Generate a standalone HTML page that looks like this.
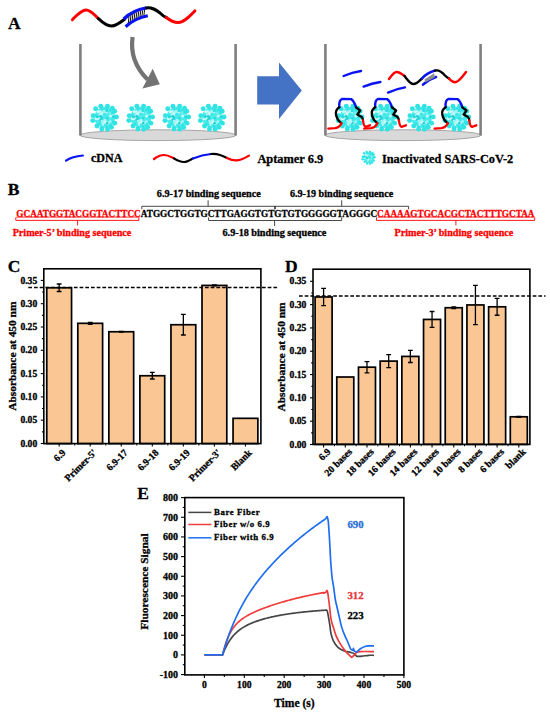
<!DOCTYPE html>
<html><head><meta charset="utf-8"><style>
html,body{margin:0;padding:0;background:#fff;width:550px;height:715px;overflow:hidden}
svg{display:block}
text{font-family:"Liberation Serif",serif;font-weight:bold;stroke:#000;stroke-width:0.3px}
</style></head><body>
<svg width="550" height="715" viewBox="0 0 550 715">
<rect width="550" height="715" fill="#fff"/>
<text x="8.00" y="28.80" font-size="17.5" fill="#000" style="stroke:#000" text-anchor="start" >A</text><path d="M72.4,19.7 C77,15 81,10 86,9.9 C91,9.9 95,15.5 98.3,18.5" fill="none" stroke="#ff0000" stroke-width="3.0" stroke-linecap="round" stroke-linejoin="round" /><path d="M98.3,18.5 C102,22 106,26 111.5,26.1 C116,26 121,22 124.8,19.1" fill="none" stroke="#000" stroke-width="3.0" stroke-linecap="round" stroke-linejoin="round" /><path d="M123.8,18.9 C128,14.8 134,10.2 146.4,7.9" fill="none" stroke="#0a14f0" stroke-width="3.5" stroke-linecap="butt" stroke-linejoin="round" /><path d="M125.6,26.7 C131,21.8 138,17.6 147.8,15.8" fill="none" stroke="#0a14f0" stroke-width="3.2" stroke-linecap="butt" stroke-linejoin="round" /><path d="M146.4,7.9 C152,7.0 156,10 160,13 C162,15 164,16.5 166.3,17.5" fill="none" stroke="#000" stroke-width="3.0" stroke-linecap="round" stroke-linejoin="round" /><path d="M166.3,17.5 C170,20.5 174,22.5 178.2,22.5 C184,22.5 190,16 194.9,10.9" fill="none" stroke="#ff0000" stroke-width="3.0" stroke-linecap="round" stroke-linejoin="round" /><line x1="128.30" y1="22.92" x2="129.00" y2="16.67" stroke="#111" stroke-width="1.0"/><line x1="130.25" y1="21.49" x2="130.95" y2="15.36" stroke="#111" stroke-width="1.0"/><line x1="132.20" y1="20.20" x2="132.90" y2="14.23" stroke="#111" stroke-width="1.0"/><line x1="134.15" y1="19.07" x2="134.85" y2="13.25" stroke="#111" stroke-width="1.0"/><line x1="136.10" y1="18.06" x2="136.80" y2="12.41" stroke="#111" stroke-width="1.0"/><line x1="138.05" y1="17.18" x2="138.75" y2="11.67" stroke="#111" stroke-width="1.0"/><line x1="140.00" y1="16.41" x2="140.70" y2="11.04" stroke="#111" stroke-width="1.0"/><line x1="141.95" y1="15.75" x2="142.65" y2="10.49" stroke="#111" stroke-width="1.0"/><line x1="143.90" y1="15.18" x2="144.60" y2="10.01" stroke="#111" stroke-width="1.0"/><ellipse cx="158.00" cy="135.2" rx="78.10" ry="5.4" fill="#d9d9d9" stroke="#a6a6a6" stroke-width="1"/><line x1="80.40" y1="44" x2="80.40" y2="135.5" stroke="#7f7f7f" stroke-width="2.6"/><line x1="235.60" y1="44" x2="235.60" y2="135.5" stroke="#7f7f7f" stroke-width="2.6"/><ellipse cx="403.00" cy="135.2" rx="78.10" ry="5.4" fill="#d9d9d9" stroke="#a6a6a6" stroke-width="1"/><line x1="325.40" y1="44" x2="325.40" y2="135.5" stroke="#7f7f7f" stroke-width="2.6"/><line x1="480.60" y1="44" x2="480.60" y2="135.5" stroke="#7f7f7f" stroke-width="2.6"/><g transform="translate(104.80,117.40) scale(1.0333)"><circle r="10.2" fill="#48eaea"/><line x1="6.99" y1="-0.30" x2="11.27" y2="-0.48" stroke="#2fe2e2" stroke-width="1.6"/><circle cx="11.27" cy="-0.48" r="2.4" fill="#30e4e4"/><line x1="6.08" y1="3.48" x2="9.71" y2="5.55" stroke="#2fe2e2" stroke-width="1.6"/><circle cx="9.71" cy="5.55" r="2.4" fill="#30e4e4"/><line x1="3.93" y1="5.79" x2="6.47" y2="9.55" stroke="#2fe2e2" stroke-width="1.6"/><circle cx="6.47" cy="9.55" r="2.4" fill="#30e4e4"/><line x1="1.57" y1="6.82" x2="2.63" y2="11.41" stroke="#2fe2e2" stroke-width="1.6"/><circle cx="2.63" cy="11.41" r="2.4" fill="#30e4e4"/><line x1="-1.74" y1="6.78" x2="-2.89" y2="11.25" stroke="#2fe2e2" stroke-width="1.6"/><circle cx="-2.89" cy="11.25" r="2.4" fill="#30e4e4"/><line x1="-4.73" y1="5.16" x2="-7.58" y2="8.26" stroke="#2fe2e2" stroke-width="1.6"/><circle cx="-7.58" cy="8.26" r="2.4" fill="#30e4e4"/><line x1="-6.77" y1="1.80" x2="-11.69" y2="3.11" stroke="#2fe2e2" stroke-width="1.6"/><circle cx="-11.69" cy="3.11" r="2.4" fill="#30e4e4"/><line x1="-6.92" y1="-1.06" x2="-11.24" y2="-1.71" stroke="#2fe2e2" stroke-width="1.6"/><circle cx="-11.24" cy="-1.71" r="2.4" fill="#30e4e4"/><line x1="-5.10" y1="-4.80" x2="-8.91" y2="-8.39" stroke="#2fe2e2" stroke-width="1.6"/><circle cx="-8.91" cy="-8.39" r="2.4" fill="#30e4e4"/><line x1="-2.36" y1="-6.59" x2="-3.90" y2="-10.90" stroke="#2fe2e2" stroke-width="1.6"/><circle cx="-3.90" cy="-10.90" r="2.4" fill="#30e4e4"/><line x1="1.63" y1="-6.81" x2="2.60" y2="-10.85" stroke="#2fe2e2" stroke-width="1.6"/><circle cx="2.60" cy="-10.85" r="2.4" fill="#30e4e4"/><line x1="4.46" y1="-5.40" x2="7.29" y2="-8.83" stroke="#2fe2e2" stroke-width="1.6"/><circle cx="7.29" cy="-8.83" r="2.4" fill="#30e4e4"/><line x1="5.90" y1="-3.77" x2="9.47" y2="-6.05" stroke="#2fe2e2" stroke-width="1.6"/><circle cx="9.47" cy="-6.05" r="2.4" fill="#30e4e4"/><circle cx="1.97" cy="-4.47" r="0.89" fill="#b0f6f6"/><circle cx="2.53" cy="6.15" r="1.29" fill="#c8f9f9"/><circle cx="2.05" cy="0.81" r="1.25" fill="#2adcdc"/><circle cx="1.09" cy="-6.32" r="1.33" fill="#e0fcfc"/><circle cx="-1.82" cy="5.64" r="1.43" fill="#b0f6f6"/><circle cx="-3.88" cy="-1.96" r="1.59" fill="#e0fcfc"/><circle cx="-1.77" cy="7.30" r="0.91" fill="#c8f9f9"/><circle cx="0.26" cy="-5.68" r="1.64" fill="#b0f6f6"/><circle cx="5.55" cy="-1.35" r="1.49" fill="#c8f9f9"/><circle cx="4.72" cy="-4.70" r="1.11" fill="#22ccd4"/><circle cx="-5.21" cy="0.11" r="0.86" fill="#e0fcfc"/><circle cx="-0.34" cy="2.67" r="0.85" fill="#c8f9f9"/><circle cx="-4.44" cy="-5.88" r="1.06" fill="#e0fcfc"/><circle cx="-2.67" cy="-4.77" r="1.65" fill="#9ef3f3"/><circle cx="-4.02" cy="-3.37" r="0.85" fill="#e0fcfc"/><circle cx="5.30" cy="5.60" r="1.16" fill="#2adcdc"/><circle cx="-8.42" cy="0.18" r="1.20" fill="#b0f6f6"/><circle cx="4.85" cy="-4.36" r="1.58" fill="#6cefef"/><circle cx="-4.00" cy="2.36" r="1.41" fill="#22ccd4"/><circle cx="0.65" cy="5.39" r="0.96" fill="#c8f9f9"/><circle cx="0.44" cy="4.22" r="1.55" fill="#e0fcfc"/><circle cx="-0.75" cy="3.68" r="1.18" fill="#b0f6f6"/><circle cx="-4.89" cy="-2.17" r="1.42" fill="#b0f6f6"/><circle cx="-4.67" cy="-4.25" r="1.21" fill="#9ef3f3"/><circle cx="7.84" cy="-2.45" r="1.16" fill="#6cefef"/><circle cx="-5.49" cy="0.64" r="0.86" fill="#6cefef"/><circle cx="0.59" cy="2.21" r="0.90" fill="#b0f6f6"/><circle cx="5.46" cy="4.09" r="1.28" fill="#b0f6f6"/><circle cx="-6.48" cy="-5.62" r="1.59" fill="#c8f9f9"/><circle cx="4.10" cy="5.54" r="1.66" fill="#3ee6e6"/><circle cx="-6.74" cy="1.10" r="1.56" fill="#c8f9f9"/><circle cx="-8.57" cy="1.86" r="1.08" fill="#e0fcfc"/><circle cx="-0.01" cy="-3.34" r="1.23" fill="#3ee6e6"/><circle cx="-7.28" cy="-0.75" r="1.66" fill="#2adcdc"/><circle cx="3.87" cy="5.09" r="1.48" fill="#9ef3f3"/><circle cx="-2.99" cy="-3.76" r="1.43" fill="#c8f9f9"/><circle cx="-3.01" cy="3.34" r="1.12" fill="#b0f6f6"/><circle cx="-4.01" cy="-1.07" r="1.37" fill="#22ccd4"/><circle cx="1.65" cy="-6.69" r="1.53" fill="#2adcdc"/><circle cx="-0.51" cy="-7.94" r="0.98" fill="#2adcdc"/><circle cx="-0.74" cy="-6.13" r="1.51" fill="#9ef3f3"/><circle cx="2.10" cy="5.67" r="1.20" fill="#22ccd4"/><circle cx="8.49" cy="-0.64" r="0.87" fill="#22ccd4"/><circle cx="-2.76" cy="0.53" r="0.98" fill="#22ccd4"/></g><g transform="translate(140.90,117.40) scale(1.0333)"><circle r="10.2" fill="#48eaea"/><line x1="6.99" y1="-0.30" x2="11.27" y2="-0.48" stroke="#2fe2e2" stroke-width="1.6"/><circle cx="11.27" cy="-0.48" r="2.4" fill="#30e4e4"/><line x1="6.08" y1="3.48" x2="9.71" y2="5.55" stroke="#2fe2e2" stroke-width="1.6"/><circle cx="9.71" cy="5.55" r="2.4" fill="#30e4e4"/><line x1="3.93" y1="5.79" x2="6.47" y2="9.55" stroke="#2fe2e2" stroke-width="1.6"/><circle cx="6.47" cy="9.55" r="2.4" fill="#30e4e4"/><line x1="1.57" y1="6.82" x2="2.63" y2="11.41" stroke="#2fe2e2" stroke-width="1.6"/><circle cx="2.63" cy="11.41" r="2.4" fill="#30e4e4"/><line x1="-1.74" y1="6.78" x2="-2.89" y2="11.25" stroke="#2fe2e2" stroke-width="1.6"/><circle cx="-2.89" cy="11.25" r="2.4" fill="#30e4e4"/><line x1="-4.73" y1="5.16" x2="-7.58" y2="8.26" stroke="#2fe2e2" stroke-width="1.6"/><circle cx="-7.58" cy="8.26" r="2.4" fill="#30e4e4"/><line x1="-6.77" y1="1.80" x2="-11.69" y2="3.11" stroke="#2fe2e2" stroke-width="1.6"/><circle cx="-11.69" cy="3.11" r="2.4" fill="#30e4e4"/><line x1="-6.92" y1="-1.06" x2="-11.24" y2="-1.71" stroke="#2fe2e2" stroke-width="1.6"/><circle cx="-11.24" cy="-1.71" r="2.4" fill="#30e4e4"/><line x1="-5.10" y1="-4.80" x2="-8.91" y2="-8.39" stroke="#2fe2e2" stroke-width="1.6"/><circle cx="-8.91" cy="-8.39" r="2.4" fill="#30e4e4"/><line x1="-2.36" y1="-6.59" x2="-3.90" y2="-10.90" stroke="#2fe2e2" stroke-width="1.6"/><circle cx="-3.90" cy="-10.90" r="2.4" fill="#30e4e4"/><line x1="1.63" y1="-6.81" x2="2.60" y2="-10.85" stroke="#2fe2e2" stroke-width="1.6"/><circle cx="2.60" cy="-10.85" r="2.4" fill="#30e4e4"/><line x1="4.46" y1="-5.40" x2="7.29" y2="-8.83" stroke="#2fe2e2" stroke-width="1.6"/><circle cx="7.29" cy="-8.83" r="2.4" fill="#30e4e4"/><line x1="5.90" y1="-3.77" x2="9.47" y2="-6.05" stroke="#2fe2e2" stroke-width="1.6"/><circle cx="9.47" cy="-6.05" r="2.4" fill="#30e4e4"/><circle cx="1.97" cy="-4.47" r="0.89" fill="#b0f6f6"/><circle cx="2.53" cy="6.15" r="1.29" fill="#c8f9f9"/><circle cx="2.05" cy="0.81" r="1.25" fill="#2adcdc"/><circle cx="1.09" cy="-6.32" r="1.33" fill="#e0fcfc"/><circle cx="-1.82" cy="5.64" r="1.43" fill="#b0f6f6"/><circle cx="-3.88" cy="-1.96" r="1.59" fill="#e0fcfc"/><circle cx="-1.77" cy="7.30" r="0.91" fill="#c8f9f9"/><circle cx="0.26" cy="-5.68" r="1.64" fill="#b0f6f6"/><circle cx="5.55" cy="-1.35" r="1.49" fill="#c8f9f9"/><circle cx="4.72" cy="-4.70" r="1.11" fill="#22ccd4"/><circle cx="-5.21" cy="0.11" r="0.86" fill="#e0fcfc"/><circle cx="-0.34" cy="2.67" r="0.85" fill="#c8f9f9"/><circle cx="-4.44" cy="-5.88" r="1.06" fill="#e0fcfc"/><circle cx="-2.67" cy="-4.77" r="1.65" fill="#9ef3f3"/><circle cx="-4.02" cy="-3.37" r="0.85" fill="#e0fcfc"/><circle cx="5.30" cy="5.60" r="1.16" fill="#2adcdc"/><circle cx="-8.42" cy="0.18" r="1.20" fill="#b0f6f6"/><circle cx="4.85" cy="-4.36" r="1.58" fill="#6cefef"/><circle cx="-4.00" cy="2.36" r="1.41" fill="#22ccd4"/><circle cx="0.65" cy="5.39" r="0.96" fill="#c8f9f9"/><circle cx="0.44" cy="4.22" r="1.55" fill="#e0fcfc"/><circle cx="-0.75" cy="3.68" r="1.18" fill="#b0f6f6"/><circle cx="-4.89" cy="-2.17" r="1.42" fill="#b0f6f6"/><circle cx="-4.67" cy="-4.25" r="1.21" fill="#9ef3f3"/><circle cx="7.84" cy="-2.45" r="1.16" fill="#6cefef"/><circle cx="-5.49" cy="0.64" r="0.86" fill="#6cefef"/><circle cx="0.59" cy="2.21" r="0.90" fill="#b0f6f6"/><circle cx="5.46" cy="4.09" r="1.28" fill="#b0f6f6"/><circle cx="-6.48" cy="-5.62" r="1.59" fill="#c8f9f9"/><circle cx="4.10" cy="5.54" r="1.66" fill="#3ee6e6"/><circle cx="-6.74" cy="1.10" r="1.56" fill="#c8f9f9"/><circle cx="-8.57" cy="1.86" r="1.08" fill="#e0fcfc"/><circle cx="-0.01" cy="-3.34" r="1.23" fill="#3ee6e6"/><circle cx="-7.28" cy="-0.75" r="1.66" fill="#2adcdc"/><circle cx="3.87" cy="5.09" r="1.48" fill="#9ef3f3"/><circle cx="-2.99" cy="-3.76" r="1.43" fill="#c8f9f9"/><circle cx="-3.01" cy="3.34" r="1.12" fill="#b0f6f6"/><circle cx="-4.01" cy="-1.07" r="1.37" fill="#22ccd4"/><circle cx="1.65" cy="-6.69" r="1.53" fill="#2adcdc"/><circle cx="-0.51" cy="-7.94" r="0.98" fill="#2adcdc"/><circle cx="-0.74" cy="-6.13" r="1.51" fill="#9ef3f3"/><circle cx="2.10" cy="5.67" r="1.20" fill="#22ccd4"/><circle cx="8.49" cy="-0.64" r="0.87" fill="#22ccd4"/><circle cx="-2.76" cy="0.53" r="0.98" fill="#22ccd4"/></g><g transform="translate(177.00,117.40) scale(1.0333)"><circle r="10.2" fill="#48eaea"/><line x1="6.99" y1="-0.30" x2="11.27" y2="-0.48" stroke="#2fe2e2" stroke-width="1.6"/><circle cx="11.27" cy="-0.48" r="2.4" fill="#30e4e4"/><line x1="6.08" y1="3.48" x2="9.71" y2="5.55" stroke="#2fe2e2" stroke-width="1.6"/><circle cx="9.71" cy="5.55" r="2.4" fill="#30e4e4"/><line x1="3.93" y1="5.79" x2="6.47" y2="9.55" stroke="#2fe2e2" stroke-width="1.6"/><circle cx="6.47" cy="9.55" r="2.4" fill="#30e4e4"/><line x1="1.57" y1="6.82" x2="2.63" y2="11.41" stroke="#2fe2e2" stroke-width="1.6"/><circle cx="2.63" cy="11.41" r="2.4" fill="#30e4e4"/><line x1="-1.74" y1="6.78" x2="-2.89" y2="11.25" stroke="#2fe2e2" stroke-width="1.6"/><circle cx="-2.89" cy="11.25" r="2.4" fill="#30e4e4"/><line x1="-4.73" y1="5.16" x2="-7.58" y2="8.26" stroke="#2fe2e2" stroke-width="1.6"/><circle cx="-7.58" cy="8.26" r="2.4" fill="#30e4e4"/><line x1="-6.77" y1="1.80" x2="-11.69" y2="3.11" stroke="#2fe2e2" stroke-width="1.6"/><circle cx="-11.69" cy="3.11" r="2.4" fill="#30e4e4"/><line x1="-6.92" y1="-1.06" x2="-11.24" y2="-1.71" stroke="#2fe2e2" stroke-width="1.6"/><circle cx="-11.24" cy="-1.71" r="2.4" fill="#30e4e4"/><line x1="-5.10" y1="-4.80" x2="-8.91" y2="-8.39" stroke="#2fe2e2" stroke-width="1.6"/><circle cx="-8.91" cy="-8.39" r="2.4" fill="#30e4e4"/><line x1="-2.36" y1="-6.59" x2="-3.90" y2="-10.90" stroke="#2fe2e2" stroke-width="1.6"/><circle cx="-3.90" cy="-10.90" r="2.4" fill="#30e4e4"/><line x1="1.63" y1="-6.81" x2="2.60" y2="-10.85" stroke="#2fe2e2" stroke-width="1.6"/><circle cx="2.60" cy="-10.85" r="2.4" fill="#30e4e4"/><line x1="4.46" y1="-5.40" x2="7.29" y2="-8.83" stroke="#2fe2e2" stroke-width="1.6"/><circle cx="7.29" cy="-8.83" r="2.4" fill="#30e4e4"/><line x1="5.90" y1="-3.77" x2="9.47" y2="-6.05" stroke="#2fe2e2" stroke-width="1.6"/><circle cx="9.47" cy="-6.05" r="2.4" fill="#30e4e4"/><circle cx="1.97" cy="-4.47" r="0.89" fill="#b0f6f6"/><circle cx="2.53" cy="6.15" r="1.29" fill="#c8f9f9"/><circle cx="2.05" cy="0.81" r="1.25" fill="#2adcdc"/><circle cx="1.09" cy="-6.32" r="1.33" fill="#e0fcfc"/><circle cx="-1.82" cy="5.64" r="1.43" fill="#b0f6f6"/><circle cx="-3.88" cy="-1.96" r="1.59" fill="#e0fcfc"/><circle cx="-1.77" cy="7.30" r="0.91" fill="#c8f9f9"/><circle cx="0.26" cy="-5.68" r="1.64" fill="#b0f6f6"/><circle cx="5.55" cy="-1.35" r="1.49" fill="#c8f9f9"/><circle cx="4.72" cy="-4.70" r="1.11" fill="#22ccd4"/><circle cx="-5.21" cy="0.11" r="0.86" fill="#e0fcfc"/><circle cx="-0.34" cy="2.67" r="0.85" fill="#c8f9f9"/><circle cx="-4.44" cy="-5.88" r="1.06" fill="#e0fcfc"/><circle cx="-2.67" cy="-4.77" r="1.65" fill="#9ef3f3"/><circle cx="-4.02" cy="-3.37" r="0.85" fill="#e0fcfc"/><circle cx="5.30" cy="5.60" r="1.16" fill="#2adcdc"/><circle cx="-8.42" cy="0.18" r="1.20" fill="#b0f6f6"/><circle cx="4.85" cy="-4.36" r="1.58" fill="#6cefef"/><circle cx="-4.00" cy="2.36" r="1.41" fill="#22ccd4"/><circle cx="0.65" cy="5.39" r="0.96" fill="#c8f9f9"/><circle cx="0.44" cy="4.22" r="1.55" fill="#e0fcfc"/><circle cx="-0.75" cy="3.68" r="1.18" fill="#b0f6f6"/><circle cx="-4.89" cy="-2.17" r="1.42" fill="#b0f6f6"/><circle cx="-4.67" cy="-4.25" r="1.21" fill="#9ef3f3"/><circle cx="7.84" cy="-2.45" r="1.16" fill="#6cefef"/><circle cx="-5.49" cy="0.64" r="0.86" fill="#6cefef"/><circle cx="0.59" cy="2.21" r="0.90" fill="#b0f6f6"/><circle cx="5.46" cy="4.09" r="1.28" fill="#b0f6f6"/><circle cx="-6.48" cy="-5.62" r="1.59" fill="#c8f9f9"/><circle cx="4.10" cy="5.54" r="1.66" fill="#3ee6e6"/><circle cx="-6.74" cy="1.10" r="1.56" fill="#c8f9f9"/><circle cx="-8.57" cy="1.86" r="1.08" fill="#e0fcfc"/><circle cx="-0.01" cy="-3.34" r="1.23" fill="#3ee6e6"/><circle cx="-7.28" cy="-0.75" r="1.66" fill="#2adcdc"/><circle cx="3.87" cy="5.09" r="1.48" fill="#9ef3f3"/><circle cx="-2.99" cy="-3.76" r="1.43" fill="#c8f9f9"/><circle cx="-3.01" cy="3.34" r="1.12" fill="#b0f6f6"/><circle cx="-4.01" cy="-1.07" r="1.37" fill="#22ccd4"/><circle cx="1.65" cy="-6.69" r="1.53" fill="#2adcdc"/><circle cx="-0.51" cy="-7.94" r="0.98" fill="#2adcdc"/><circle cx="-0.74" cy="-6.13" r="1.51" fill="#9ef3f3"/><circle cx="2.10" cy="5.67" r="1.20" fill="#22ccd4"/><circle cx="8.49" cy="-0.64" r="0.87" fill="#22ccd4"/><circle cx="-2.76" cy="0.53" r="0.98" fill="#22ccd4"/></g><g transform="translate(212.40,117.40) scale(1.0333)"><circle r="10.2" fill="#48eaea"/><line x1="6.99" y1="-0.30" x2="11.27" y2="-0.48" stroke="#2fe2e2" stroke-width="1.6"/><circle cx="11.27" cy="-0.48" r="2.4" fill="#30e4e4"/><line x1="6.08" y1="3.48" x2="9.71" y2="5.55" stroke="#2fe2e2" stroke-width="1.6"/><circle cx="9.71" cy="5.55" r="2.4" fill="#30e4e4"/><line x1="3.93" y1="5.79" x2="6.47" y2="9.55" stroke="#2fe2e2" stroke-width="1.6"/><circle cx="6.47" cy="9.55" r="2.4" fill="#30e4e4"/><line x1="1.57" y1="6.82" x2="2.63" y2="11.41" stroke="#2fe2e2" stroke-width="1.6"/><circle cx="2.63" cy="11.41" r="2.4" fill="#30e4e4"/><line x1="-1.74" y1="6.78" x2="-2.89" y2="11.25" stroke="#2fe2e2" stroke-width="1.6"/><circle cx="-2.89" cy="11.25" r="2.4" fill="#30e4e4"/><line x1="-4.73" y1="5.16" x2="-7.58" y2="8.26" stroke="#2fe2e2" stroke-width="1.6"/><circle cx="-7.58" cy="8.26" r="2.4" fill="#30e4e4"/><line x1="-6.77" y1="1.80" x2="-11.69" y2="3.11" stroke="#2fe2e2" stroke-width="1.6"/><circle cx="-11.69" cy="3.11" r="2.4" fill="#30e4e4"/><line x1="-6.92" y1="-1.06" x2="-11.24" y2="-1.71" stroke="#2fe2e2" stroke-width="1.6"/><circle cx="-11.24" cy="-1.71" r="2.4" fill="#30e4e4"/><line x1="-5.10" y1="-4.80" x2="-8.91" y2="-8.39" stroke="#2fe2e2" stroke-width="1.6"/><circle cx="-8.91" cy="-8.39" r="2.4" fill="#30e4e4"/><line x1="-2.36" y1="-6.59" x2="-3.90" y2="-10.90" stroke="#2fe2e2" stroke-width="1.6"/><circle cx="-3.90" cy="-10.90" r="2.4" fill="#30e4e4"/><line x1="1.63" y1="-6.81" x2="2.60" y2="-10.85" stroke="#2fe2e2" stroke-width="1.6"/><circle cx="2.60" cy="-10.85" r="2.4" fill="#30e4e4"/><line x1="4.46" y1="-5.40" x2="7.29" y2="-8.83" stroke="#2fe2e2" stroke-width="1.6"/><circle cx="7.29" cy="-8.83" r="2.4" fill="#30e4e4"/><line x1="5.90" y1="-3.77" x2="9.47" y2="-6.05" stroke="#2fe2e2" stroke-width="1.6"/><circle cx="9.47" cy="-6.05" r="2.4" fill="#30e4e4"/><circle cx="1.97" cy="-4.47" r="0.89" fill="#b0f6f6"/><circle cx="2.53" cy="6.15" r="1.29" fill="#c8f9f9"/><circle cx="2.05" cy="0.81" r="1.25" fill="#2adcdc"/><circle cx="1.09" cy="-6.32" r="1.33" fill="#e0fcfc"/><circle cx="-1.82" cy="5.64" r="1.43" fill="#b0f6f6"/><circle cx="-3.88" cy="-1.96" r="1.59" fill="#e0fcfc"/><circle cx="-1.77" cy="7.30" r="0.91" fill="#c8f9f9"/><circle cx="0.26" cy="-5.68" r="1.64" fill="#b0f6f6"/><circle cx="5.55" cy="-1.35" r="1.49" fill="#c8f9f9"/><circle cx="4.72" cy="-4.70" r="1.11" fill="#22ccd4"/><circle cx="-5.21" cy="0.11" r="0.86" fill="#e0fcfc"/><circle cx="-0.34" cy="2.67" r="0.85" fill="#c8f9f9"/><circle cx="-4.44" cy="-5.88" r="1.06" fill="#e0fcfc"/><circle cx="-2.67" cy="-4.77" r="1.65" fill="#9ef3f3"/><circle cx="-4.02" cy="-3.37" r="0.85" fill="#e0fcfc"/><circle cx="5.30" cy="5.60" r="1.16" fill="#2adcdc"/><circle cx="-8.42" cy="0.18" r="1.20" fill="#b0f6f6"/><circle cx="4.85" cy="-4.36" r="1.58" fill="#6cefef"/><circle cx="-4.00" cy="2.36" r="1.41" fill="#22ccd4"/><circle cx="0.65" cy="5.39" r="0.96" fill="#c8f9f9"/><circle cx="0.44" cy="4.22" r="1.55" fill="#e0fcfc"/><circle cx="-0.75" cy="3.68" r="1.18" fill="#b0f6f6"/><circle cx="-4.89" cy="-2.17" r="1.42" fill="#b0f6f6"/><circle cx="-4.67" cy="-4.25" r="1.21" fill="#9ef3f3"/><circle cx="7.84" cy="-2.45" r="1.16" fill="#6cefef"/><circle cx="-5.49" cy="0.64" r="0.86" fill="#6cefef"/><circle cx="0.59" cy="2.21" r="0.90" fill="#b0f6f6"/><circle cx="5.46" cy="4.09" r="1.28" fill="#b0f6f6"/><circle cx="-6.48" cy="-5.62" r="1.59" fill="#c8f9f9"/><circle cx="4.10" cy="5.54" r="1.66" fill="#3ee6e6"/><circle cx="-6.74" cy="1.10" r="1.56" fill="#c8f9f9"/><circle cx="-8.57" cy="1.86" r="1.08" fill="#e0fcfc"/><circle cx="-0.01" cy="-3.34" r="1.23" fill="#3ee6e6"/><circle cx="-7.28" cy="-0.75" r="1.66" fill="#2adcdc"/><circle cx="3.87" cy="5.09" r="1.48" fill="#9ef3f3"/><circle cx="-2.99" cy="-3.76" r="1.43" fill="#c8f9f9"/><circle cx="-3.01" cy="3.34" r="1.12" fill="#b0f6f6"/><circle cx="-4.01" cy="-1.07" r="1.37" fill="#22ccd4"/><circle cx="1.65" cy="-6.69" r="1.53" fill="#2adcdc"/><circle cx="-0.51" cy="-7.94" r="0.98" fill="#2adcdc"/><circle cx="-0.74" cy="-6.13" r="1.51" fill="#9ef3f3"/><circle cx="2.10" cy="5.67" r="1.20" fill="#22ccd4"/><circle cx="8.49" cy="-0.64" r="0.87" fill="#22ccd4"/><circle cx="-2.76" cy="0.53" r="0.98" fill="#22ccd4"/></g><path d="M132.6,37 C130,55 136,68 147.5,79.5" fill="none" stroke="#737373" stroke-width="4.2" stroke-linecap="butt" stroke-linejoin="round" /><polygon points="152.7,68.7 159.8,84.2 142.4,88.4" fill="#737373"/><polygon points="257.2,76.2 279,76.2 279,62.4 301.8,90.6 279,119.1 279,104.5 257.2,104.5" fill="#4472c4"/><g transform="translate(350.30,117.40) scale(1.0333)"><circle r="10.2" fill="#48eaea"/><line x1="6.99" y1="-0.30" x2="11.27" y2="-0.48" stroke="#2fe2e2" stroke-width="1.6"/><circle cx="11.27" cy="-0.48" r="2.4" fill="#30e4e4"/><line x1="6.08" y1="3.48" x2="9.71" y2="5.55" stroke="#2fe2e2" stroke-width="1.6"/><circle cx="9.71" cy="5.55" r="2.4" fill="#30e4e4"/><line x1="3.93" y1="5.79" x2="6.47" y2="9.55" stroke="#2fe2e2" stroke-width="1.6"/><circle cx="6.47" cy="9.55" r="2.4" fill="#30e4e4"/><line x1="1.57" y1="6.82" x2="2.63" y2="11.41" stroke="#2fe2e2" stroke-width="1.6"/><circle cx="2.63" cy="11.41" r="2.4" fill="#30e4e4"/><line x1="-1.74" y1="6.78" x2="-2.89" y2="11.25" stroke="#2fe2e2" stroke-width="1.6"/><circle cx="-2.89" cy="11.25" r="2.4" fill="#30e4e4"/><line x1="-4.73" y1="5.16" x2="-7.58" y2="8.26" stroke="#2fe2e2" stroke-width="1.6"/><circle cx="-7.58" cy="8.26" r="2.4" fill="#30e4e4"/><line x1="-6.77" y1="1.80" x2="-11.69" y2="3.11" stroke="#2fe2e2" stroke-width="1.6"/><circle cx="-11.69" cy="3.11" r="2.4" fill="#30e4e4"/><line x1="-6.92" y1="-1.06" x2="-11.24" y2="-1.71" stroke="#2fe2e2" stroke-width="1.6"/><circle cx="-11.24" cy="-1.71" r="2.4" fill="#30e4e4"/><line x1="-5.10" y1="-4.80" x2="-8.91" y2="-8.39" stroke="#2fe2e2" stroke-width="1.6"/><circle cx="-8.91" cy="-8.39" r="2.4" fill="#30e4e4"/><line x1="-2.36" y1="-6.59" x2="-3.90" y2="-10.90" stroke="#2fe2e2" stroke-width="1.6"/><circle cx="-3.90" cy="-10.90" r="2.4" fill="#30e4e4"/><line x1="1.63" y1="-6.81" x2="2.60" y2="-10.85" stroke="#2fe2e2" stroke-width="1.6"/><circle cx="2.60" cy="-10.85" r="2.4" fill="#30e4e4"/><line x1="4.46" y1="-5.40" x2="7.29" y2="-8.83" stroke="#2fe2e2" stroke-width="1.6"/><circle cx="7.29" cy="-8.83" r="2.4" fill="#30e4e4"/><line x1="5.90" y1="-3.77" x2="9.47" y2="-6.05" stroke="#2fe2e2" stroke-width="1.6"/><circle cx="9.47" cy="-6.05" r="2.4" fill="#30e4e4"/><circle cx="1.97" cy="-4.47" r="0.89" fill="#b0f6f6"/><circle cx="2.53" cy="6.15" r="1.29" fill="#c8f9f9"/><circle cx="2.05" cy="0.81" r="1.25" fill="#2adcdc"/><circle cx="1.09" cy="-6.32" r="1.33" fill="#e0fcfc"/><circle cx="-1.82" cy="5.64" r="1.43" fill="#b0f6f6"/><circle cx="-3.88" cy="-1.96" r="1.59" fill="#e0fcfc"/><circle cx="-1.77" cy="7.30" r="0.91" fill="#c8f9f9"/><circle cx="0.26" cy="-5.68" r="1.64" fill="#b0f6f6"/><circle cx="5.55" cy="-1.35" r="1.49" fill="#c8f9f9"/><circle cx="4.72" cy="-4.70" r="1.11" fill="#22ccd4"/><circle cx="-5.21" cy="0.11" r="0.86" fill="#e0fcfc"/><circle cx="-0.34" cy="2.67" r="0.85" fill="#c8f9f9"/><circle cx="-4.44" cy="-5.88" r="1.06" fill="#e0fcfc"/><circle cx="-2.67" cy="-4.77" r="1.65" fill="#9ef3f3"/><circle cx="-4.02" cy="-3.37" r="0.85" fill="#e0fcfc"/><circle cx="5.30" cy="5.60" r="1.16" fill="#2adcdc"/><circle cx="-8.42" cy="0.18" r="1.20" fill="#b0f6f6"/><circle cx="4.85" cy="-4.36" r="1.58" fill="#6cefef"/><circle cx="-4.00" cy="2.36" r="1.41" fill="#22ccd4"/><circle cx="0.65" cy="5.39" r="0.96" fill="#c8f9f9"/><circle cx="0.44" cy="4.22" r="1.55" fill="#e0fcfc"/><circle cx="-0.75" cy="3.68" r="1.18" fill="#b0f6f6"/><circle cx="-4.89" cy="-2.17" r="1.42" fill="#b0f6f6"/><circle cx="-4.67" cy="-4.25" r="1.21" fill="#9ef3f3"/><circle cx="7.84" cy="-2.45" r="1.16" fill="#6cefef"/><circle cx="-5.49" cy="0.64" r="0.86" fill="#6cefef"/><circle cx="0.59" cy="2.21" r="0.90" fill="#b0f6f6"/><circle cx="5.46" cy="4.09" r="1.28" fill="#b0f6f6"/><circle cx="-6.48" cy="-5.62" r="1.59" fill="#c8f9f9"/><circle cx="4.10" cy="5.54" r="1.66" fill="#3ee6e6"/><circle cx="-6.74" cy="1.10" r="1.56" fill="#c8f9f9"/><circle cx="-8.57" cy="1.86" r="1.08" fill="#e0fcfc"/><circle cx="-0.01" cy="-3.34" r="1.23" fill="#3ee6e6"/><circle cx="-7.28" cy="-0.75" r="1.66" fill="#2adcdc"/><circle cx="3.87" cy="5.09" r="1.48" fill="#9ef3f3"/><circle cx="-2.99" cy="-3.76" r="1.43" fill="#c8f9f9"/><circle cx="-3.01" cy="3.34" r="1.12" fill="#b0f6f6"/><circle cx="-4.01" cy="-1.07" r="1.37" fill="#22ccd4"/><circle cx="1.65" cy="-6.69" r="1.53" fill="#2adcdc"/><circle cx="-0.51" cy="-7.94" r="0.98" fill="#2adcdc"/><circle cx="-0.74" cy="-6.13" r="1.51" fill="#9ef3f3"/><circle cx="2.10" cy="5.67" r="1.20" fill="#22ccd4"/><circle cx="8.49" cy="-0.64" r="0.87" fill="#22ccd4"/><circle cx="-2.76" cy="0.53" r="0.98" fill="#22ccd4"/></g><g transform="translate(384.60,117.40) scale(1.0333)"><circle r="10.2" fill="#48eaea"/><line x1="6.99" y1="-0.30" x2="11.27" y2="-0.48" stroke="#2fe2e2" stroke-width="1.6"/><circle cx="11.27" cy="-0.48" r="2.4" fill="#30e4e4"/><line x1="6.08" y1="3.48" x2="9.71" y2="5.55" stroke="#2fe2e2" stroke-width="1.6"/><circle cx="9.71" cy="5.55" r="2.4" fill="#30e4e4"/><line x1="3.93" y1="5.79" x2="6.47" y2="9.55" stroke="#2fe2e2" stroke-width="1.6"/><circle cx="6.47" cy="9.55" r="2.4" fill="#30e4e4"/><line x1="1.57" y1="6.82" x2="2.63" y2="11.41" stroke="#2fe2e2" stroke-width="1.6"/><circle cx="2.63" cy="11.41" r="2.4" fill="#30e4e4"/><line x1="-1.74" y1="6.78" x2="-2.89" y2="11.25" stroke="#2fe2e2" stroke-width="1.6"/><circle cx="-2.89" cy="11.25" r="2.4" fill="#30e4e4"/><line x1="-4.73" y1="5.16" x2="-7.58" y2="8.26" stroke="#2fe2e2" stroke-width="1.6"/><circle cx="-7.58" cy="8.26" r="2.4" fill="#30e4e4"/><line x1="-6.77" y1="1.80" x2="-11.69" y2="3.11" stroke="#2fe2e2" stroke-width="1.6"/><circle cx="-11.69" cy="3.11" r="2.4" fill="#30e4e4"/><line x1="-6.92" y1="-1.06" x2="-11.24" y2="-1.71" stroke="#2fe2e2" stroke-width="1.6"/><circle cx="-11.24" cy="-1.71" r="2.4" fill="#30e4e4"/><line x1="-5.10" y1="-4.80" x2="-8.91" y2="-8.39" stroke="#2fe2e2" stroke-width="1.6"/><circle cx="-8.91" cy="-8.39" r="2.4" fill="#30e4e4"/><line x1="-2.36" y1="-6.59" x2="-3.90" y2="-10.90" stroke="#2fe2e2" stroke-width="1.6"/><circle cx="-3.90" cy="-10.90" r="2.4" fill="#30e4e4"/><line x1="1.63" y1="-6.81" x2="2.60" y2="-10.85" stroke="#2fe2e2" stroke-width="1.6"/><circle cx="2.60" cy="-10.85" r="2.4" fill="#30e4e4"/><line x1="4.46" y1="-5.40" x2="7.29" y2="-8.83" stroke="#2fe2e2" stroke-width="1.6"/><circle cx="7.29" cy="-8.83" r="2.4" fill="#30e4e4"/><line x1="5.90" y1="-3.77" x2="9.47" y2="-6.05" stroke="#2fe2e2" stroke-width="1.6"/><circle cx="9.47" cy="-6.05" r="2.4" fill="#30e4e4"/><circle cx="1.97" cy="-4.47" r="0.89" fill="#b0f6f6"/><circle cx="2.53" cy="6.15" r="1.29" fill="#c8f9f9"/><circle cx="2.05" cy="0.81" r="1.25" fill="#2adcdc"/><circle cx="1.09" cy="-6.32" r="1.33" fill="#e0fcfc"/><circle cx="-1.82" cy="5.64" r="1.43" fill="#b0f6f6"/><circle cx="-3.88" cy="-1.96" r="1.59" fill="#e0fcfc"/><circle cx="-1.77" cy="7.30" r="0.91" fill="#c8f9f9"/><circle cx="0.26" cy="-5.68" r="1.64" fill="#b0f6f6"/><circle cx="5.55" cy="-1.35" r="1.49" fill="#c8f9f9"/><circle cx="4.72" cy="-4.70" r="1.11" fill="#22ccd4"/><circle cx="-5.21" cy="0.11" r="0.86" fill="#e0fcfc"/><circle cx="-0.34" cy="2.67" r="0.85" fill="#c8f9f9"/><circle cx="-4.44" cy="-5.88" r="1.06" fill="#e0fcfc"/><circle cx="-2.67" cy="-4.77" r="1.65" fill="#9ef3f3"/><circle cx="-4.02" cy="-3.37" r="0.85" fill="#e0fcfc"/><circle cx="5.30" cy="5.60" r="1.16" fill="#2adcdc"/><circle cx="-8.42" cy="0.18" r="1.20" fill="#b0f6f6"/><circle cx="4.85" cy="-4.36" r="1.58" fill="#6cefef"/><circle cx="-4.00" cy="2.36" r="1.41" fill="#22ccd4"/><circle cx="0.65" cy="5.39" r="0.96" fill="#c8f9f9"/><circle cx="0.44" cy="4.22" r="1.55" fill="#e0fcfc"/><circle cx="-0.75" cy="3.68" r="1.18" fill="#b0f6f6"/><circle cx="-4.89" cy="-2.17" r="1.42" fill="#b0f6f6"/><circle cx="-4.67" cy="-4.25" r="1.21" fill="#9ef3f3"/><circle cx="7.84" cy="-2.45" r="1.16" fill="#6cefef"/><circle cx="-5.49" cy="0.64" r="0.86" fill="#6cefef"/><circle cx="0.59" cy="2.21" r="0.90" fill="#b0f6f6"/><circle cx="5.46" cy="4.09" r="1.28" fill="#b0f6f6"/><circle cx="-6.48" cy="-5.62" r="1.59" fill="#c8f9f9"/><circle cx="4.10" cy="5.54" r="1.66" fill="#3ee6e6"/><circle cx="-6.74" cy="1.10" r="1.56" fill="#c8f9f9"/><circle cx="-8.57" cy="1.86" r="1.08" fill="#e0fcfc"/><circle cx="-0.01" cy="-3.34" r="1.23" fill="#3ee6e6"/><circle cx="-7.28" cy="-0.75" r="1.66" fill="#2adcdc"/><circle cx="3.87" cy="5.09" r="1.48" fill="#9ef3f3"/><circle cx="-2.99" cy="-3.76" r="1.43" fill="#c8f9f9"/><circle cx="-3.01" cy="3.34" r="1.12" fill="#b0f6f6"/><circle cx="-4.01" cy="-1.07" r="1.37" fill="#22ccd4"/><circle cx="1.65" cy="-6.69" r="1.53" fill="#2adcdc"/><circle cx="-0.51" cy="-7.94" r="0.98" fill="#2adcdc"/><circle cx="-0.74" cy="-6.13" r="1.51" fill="#9ef3f3"/><circle cx="2.10" cy="5.67" r="1.20" fill="#22ccd4"/><circle cx="8.49" cy="-0.64" r="0.87" fill="#22ccd4"/><circle cx="-2.76" cy="0.53" r="0.98" fill="#22ccd4"/></g><g transform="translate(421.60,117.40) scale(1.0333)"><circle r="10.2" fill="#48eaea"/><line x1="6.99" y1="-0.30" x2="11.27" y2="-0.48" stroke="#2fe2e2" stroke-width="1.6"/><circle cx="11.27" cy="-0.48" r="2.4" fill="#30e4e4"/><line x1="6.08" y1="3.48" x2="9.71" y2="5.55" stroke="#2fe2e2" stroke-width="1.6"/><circle cx="9.71" cy="5.55" r="2.4" fill="#30e4e4"/><line x1="3.93" y1="5.79" x2="6.47" y2="9.55" stroke="#2fe2e2" stroke-width="1.6"/><circle cx="6.47" cy="9.55" r="2.4" fill="#30e4e4"/><line x1="1.57" y1="6.82" x2="2.63" y2="11.41" stroke="#2fe2e2" stroke-width="1.6"/><circle cx="2.63" cy="11.41" r="2.4" fill="#30e4e4"/><line x1="-1.74" y1="6.78" x2="-2.89" y2="11.25" stroke="#2fe2e2" stroke-width="1.6"/><circle cx="-2.89" cy="11.25" r="2.4" fill="#30e4e4"/><line x1="-4.73" y1="5.16" x2="-7.58" y2="8.26" stroke="#2fe2e2" stroke-width="1.6"/><circle cx="-7.58" cy="8.26" r="2.4" fill="#30e4e4"/><line x1="-6.77" y1="1.80" x2="-11.69" y2="3.11" stroke="#2fe2e2" stroke-width="1.6"/><circle cx="-11.69" cy="3.11" r="2.4" fill="#30e4e4"/><line x1="-6.92" y1="-1.06" x2="-11.24" y2="-1.71" stroke="#2fe2e2" stroke-width="1.6"/><circle cx="-11.24" cy="-1.71" r="2.4" fill="#30e4e4"/><line x1="-5.10" y1="-4.80" x2="-8.91" y2="-8.39" stroke="#2fe2e2" stroke-width="1.6"/><circle cx="-8.91" cy="-8.39" r="2.4" fill="#30e4e4"/><line x1="-2.36" y1="-6.59" x2="-3.90" y2="-10.90" stroke="#2fe2e2" stroke-width="1.6"/><circle cx="-3.90" cy="-10.90" r="2.4" fill="#30e4e4"/><line x1="1.63" y1="-6.81" x2="2.60" y2="-10.85" stroke="#2fe2e2" stroke-width="1.6"/><circle cx="2.60" cy="-10.85" r="2.4" fill="#30e4e4"/><line x1="4.46" y1="-5.40" x2="7.29" y2="-8.83" stroke="#2fe2e2" stroke-width="1.6"/><circle cx="7.29" cy="-8.83" r="2.4" fill="#30e4e4"/><line x1="5.90" y1="-3.77" x2="9.47" y2="-6.05" stroke="#2fe2e2" stroke-width="1.6"/><circle cx="9.47" cy="-6.05" r="2.4" fill="#30e4e4"/><circle cx="1.97" cy="-4.47" r="0.89" fill="#b0f6f6"/><circle cx="2.53" cy="6.15" r="1.29" fill="#c8f9f9"/><circle cx="2.05" cy="0.81" r="1.25" fill="#2adcdc"/><circle cx="1.09" cy="-6.32" r="1.33" fill="#e0fcfc"/><circle cx="-1.82" cy="5.64" r="1.43" fill="#b0f6f6"/><circle cx="-3.88" cy="-1.96" r="1.59" fill="#e0fcfc"/><circle cx="-1.77" cy="7.30" r="0.91" fill="#c8f9f9"/><circle cx="0.26" cy="-5.68" r="1.64" fill="#b0f6f6"/><circle cx="5.55" cy="-1.35" r="1.49" fill="#c8f9f9"/><circle cx="4.72" cy="-4.70" r="1.11" fill="#22ccd4"/><circle cx="-5.21" cy="0.11" r="0.86" fill="#e0fcfc"/><circle cx="-0.34" cy="2.67" r="0.85" fill="#c8f9f9"/><circle cx="-4.44" cy="-5.88" r="1.06" fill="#e0fcfc"/><circle cx="-2.67" cy="-4.77" r="1.65" fill="#9ef3f3"/><circle cx="-4.02" cy="-3.37" r="0.85" fill="#e0fcfc"/><circle cx="5.30" cy="5.60" r="1.16" fill="#2adcdc"/><circle cx="-8.42" cy="0.18" r="1.20" fill="#b0f6f6"/><circle cx="4.85" cy="-4.36" r="1.58" fill="#6cefef"/><circle cx="-4.00" cy="2.36" r="1.41" fill="#22ccd4"/><circle cx="0.65" cy="5.39" r="0.96" fill="#c8f9f9"/><circle cx="0.44" cy="4.22" r="1.55" fill="#e0fcfc"/><circle cx="-0.75" cy="3.68" r="1.18" fill="#b0f6f6"/><circle cx="-4.89" cy="-2.17" r="1.42" fill="#b0f6f6"/><circle cx="-4.67" cy="-4.25" r="1.21" fill="#9ef3f3"/><circle cx="7.84" cy="-2.45" r="1.16" fill="#6cefef"/><circle cx="-5.49" cy="0.64" r="0.86" fill="#6cefef"/><circle cx="0.59" cy="2.21" r="0.90" fill="#b0f6f6"/><circle cx="5.46" cy="4.09" r="1.28" fill="#b0f6f6"/><circle cx="-6.48" cy="-5.62" r="1.59" fill="#c8f9f9"/><circle cx="4.10" cy="5.54" r="1.66" fill="#3ee6e6"/><circle cx="-6.74" cy="1.10" r="1.56" fill="#c8f9f9"/><circle cx="-8.57" cy="1.86" r="1.08" fill="#e0fcfc"/><circle cx="-0.01" cy="-3.34" r="1.23" fill="#3ee6e6"/><circle cx="-7.28" cy="-0.75" r="1.66" fill="#2adcdc"/><circle cx="3.87" cy="5.09" r="1.48" fill="#9ef3f3"/><circle cx="-2.99" cy="-3.76" r="1.43" fill="#c8f9f9"/><circle cx="-3.01" cy="3.34" r="1.12" fill="#b0f6f6"/><circle cx="-4.01" cy="-1.07" r="1.37" fill="#22ccd4"/><circle cx="1.65" cy="-6.69" r="1.53" fill="#2adcdc"/><circle cx="-0.51" cy="-7.94" r="0.98" fill="#2adcdc"/><circle cx="-0.74" cy="-6.13" r="1.51" fill="#9ef3f3"/><circle cx="2.10" cy="5.67" r="1.20" fill="#22ccd4"/><circle cx="8.49" cy="-0.64" r="0.87" fill="#22ccd4"/><circle cx="-2.76" cy="0.53" r="0.98" fill="#22ccd4"/></g><g transform="translate(457.00,117.40) scale(1.0333)"><circle r="10.2" fill="#48eaea"/><line x1="6.99" y1="-0.30" x2="11.27" y2="-0.48" stroke="#2fe2e2" stroke-width="1.6"/><circle cx="11.27" cy="-0.48" r="2.4" fill="#30e4e4"/><line x1="6.08" y1="3.48" x2="9.71" y2="5.55" stroke="#2fe2e2" stroke-width="1.6"/><circle cx="9.71" cy="5.55" r="2.4" fill="#30e4e4"/><line x1="3.93" y1="5.79" x2="6.47" y2="9.55" stroke="#2fe2e2" stroke-width="1.6"/><circle cx="6.47" cy="9.55" r="2.4" fill="#30e4e4"/><line x1="1.57" y1="6.82" x2="2.63" y2="11.41" stroke="#2fe2e2" stroke-width="1.6"/><circle cx="2.63" cy="11.41" r="2.4" fill="#30e4e4"/><line x1="-1.74" y1="6.78" x2="-2.89" y2="11.25" stroke="#2fe2e2" stroke-width="1.6"/><circle cx="-2.89" cy="11.25" r="2.4" fill="#30e4e4"/><line x1="-4.73" y1="5.16" x2="-7.58" y2="8.26" stroke="#2fe2e2" stroke-width="1.6"/><circle cx="-7.58" cy="8.26" r="2.4" fill="#30e4e4"/><line x1="-6.77" y1="1.80" x2="-11.69" y2="3.11" stroke="#2fe2e2" stroke-width="1.6"/><circle cx="-11.69" cy="3.11" r="2.4" fill="#30e4e4"/><line x1="-6.92" y1="-1.06" x2="-11.24" y2="-1.71" stroke="#2fe2e2" stroke-width="1.6"/><circle cx="-11.24" cy="-1.71" r="2.4" fill="#30e4e4"/><line x1="-5.10" y1="-4.80" x2="-8.91" y2="-8.39" stroke="#2fe2e2" stroke-width="1.6"/><circle cx="-8.91" cy="-8.39" r="2.4" fill="#30e4e4"/><line x1="-2.36" y1="-6.59" x2="-3.90" y2="-10.90" stroke="#2fe2e2" stroke-width="1.6"/><circle cx="-3.90" cy="-10.90" r="2.4" fill="#30e4e4"/><line x1="1.63" y1="-6.81" x2="2.60" y2="-10.85" stroke="#2fe2e2" stroke-width="1.6"/><circle cx="2.60" cy="-10.85" r="2.4" fill="#30e4e4"/><line x1="4.46" y1="-5.40" x2="7.29" y2="-8.83" stroke="#2fe2e2" stroke-width="1.6"/><circle cx="7.29" cy="-8.83" r="2.4" fill="#30e4e4"/><line x1="5.90" y1="-3.77" x2="9.47" y2="-6.05" stroke="#2fe2e2" stroke-width="1.6"/><circle cx="9.47" cy="-6.05" r="2.4" fill="#30e4e4"/><circle cx="1.97" cy="-4.47" r="0.89" fill="#b0f6f6"/><circle cx="2.53" cy="6.15" r="1.29" fill="#c8f9f9"/><circle cx="2.05" cy="0.81" r="1.25" fill="#2adcdc"/><circle cx="1.09" cy="-6.32" r="1.33" fill="#e0fcfc"/><circle cx="-1.82" cy="5.64" r="1.43" fill="#b0f6f6"/><circle cx="-3.88" cy="-1.96" r="1.59" fill="#e0fcfc"/><circle cx="-1.77" cy="7.30" r="0.91" fill="#c8f9f9"/><circle cx="0.26" cy="-5.68" r="1.64" fill="#b0f6f6"/><circle cx="5.55" cy="-1.35" r="1.49" fill="#c8f9f9"/><circle cx="4.72" cy="-4.70" r="1.11" fill="#22ccd4"/><circle cx="-5.21" cy="0.11" r="0.86" fill="#e0fcfc"/><circle cx="-0.34" cy="2.67" r="0.85" fill="#c8f9f9"/><circle cx="-4.44" cy="-5.88" r="1.06" fill="#e0fcfc"/><circle cx="-2.67" cy="-4.77" r="1.65" fill="#9ef3f3"/><circle cx="-4.02" cy="-3.37" r="0.85" fill="#e0fcfc"/><circle cx="5.30" cy="5.60" r="1.16" fill="#2adcdc"/><circle cx="-8.42" cy="0.18" r="1.20" fill="#b0f6f6"/><circle cx="4.85" cy="-4.36" r="1.58" fill="#6cefef"/><circle cx="-4.00" cy="2.36" r="1.41" fill="#22ccd4"/><circle cx="0.65" cy="5.39" r="0.96" fill="#c8f9f9"/><circle cx="0.44" cy="4.22" r="1.55" fill="#e0fcfc"/><circle cx="-0.75" cy="3.68" r="1.18" fill="#b0f6f6"/><circle cx="-4.89" cy="-2.17" r="1.42" fill="#b0f6f6"/><circle cx="-4.67" cy="-4.25" r="1.21" fill="#9ef3f3"/><circle cx="7.84" cy="-2.45" r="1.16" fill="#6cefef"/><circle cx="-5.49" cy="0.64" r="0.86" fill="#6cefef"/><circle cx="0.59" cy="2.21" r="0.90" fill="#b0f6f6"/><circle cx="5.46" cy="4.09" r="1.28" fill="#b0f6f6"/><circle cx="-6.48" cy="-5.62" r="1.59" fill="#c8f9f9"/><circle cx="4.10" cy="5.54" r="1.66" fill="#3ee6e6"/><circle cx="-6.74" cy="1.10" r="1.56" fill="#c8f9f9"/><circle cx="-8.57" cy="1.86" r="1.08" fill="#e0fcfc"/><circle cx="-0.01" cy="-3.34" r="1.23" fill="#3ee6e6"/><circle cx="-7.28" cy="-0.75" r="1.66" fill="#2adcdc"/><circle cx="3.87" cy="5.09" r="1.48" fill="#9ef3f3"/><circle cx="-2.99" cy="-3.76" r="1.43" fill="#c8f9f9"/><circle cx="-3.01" cy="3.34" r="1.12" fill="#b0f6f6"/><circle cx="-4.01" cy="-1.07" r="1.37" fill="#22ccd4"/><circle cx="1.65" cy="-6.69" r="1.53" fill="#2adcdc"/><circle cx="-0.51" cy="-7.94" r="0.98" fill="#2adcdc"/><circle cx="-0.74" cy="-6.13" r="1.51" fill="#9ef3f3"/><circle cx="2.10" cy="5.67" r="1.20" fill="#22ccd4"/><circle cx="8.49" cy="-0.64" r="0.87" fill="#22ccd4"/><circle cx="-2.76" cy="0.53" r="0.98" fill="#22ccd4"/></g><path d="M343.6,76 Q352.3,72.3 361,71" fill="none" stroke="#0a14f0" stroke-width="2.4" stroke-linecap="round" stroke-linejoin="round" /><path d="M363.6,86.6 Q372.0,83.1 380.4,82" fill="none" stroke="#0a14f0" stroke-width="2.4" stroke-linecap="round" stroke-linejoin="round" /><path d="M388,92.6 Q396.5,88.8 405,87.4" fill="none" stroke="#0a14f0" stroke-width="2.4" stroke-linecap="round" stroke-linejoin="round" /><path d="M389,79 C392,75 394,72 396.5,72 C399,72 402,74 404.5,76" fill="none" stroke="#ff0000" stroke-width="2.4" stroke-linecap="round" stroke-linejoin="round" /><path d="M404.5,76 C407,79 410,84 413.5,84 C417,84 419,81 422,78.5" fill="none" stroke="#000" stroke-width="2.4" stroke-linecap="round" stroke-linejoin="round" /><path d="M422,78.5 C426,74 430,72 435,70.6" fill="none" stroke="#0a14f0" stroke-width="2.6" stroke-linecap="round" stroke-linejoin="round" /><path d="M435,70.6 C439,69.5 442,72 445,75.5 C446.5,77 447.5,78 449,78.5" fill="none" stroke="#000" stroke-width="2.4" stroke-linecap="round" stroke-linejoin="round" /><path d="M449,78.5 C451,81 453,82.2 455,82.2 C459,82 463,76 466,72" fill="none" stroke="#ff0000" stroke-width="2.4" stroke-linecap="round" stroke-linejoin="round" /><path d="M423,84.6 C427,81 431,78.5 436,77" fill="none" stroke="#0a14f0" stroke-width="2.6" stroke-linecap="round" stroke-linejoin="round" /><polygon points="424.5,79.5 434,73.2 435,77.2 425.5,82.5" fill="#8c8c8c"/><path d="M339.3,107 C339,103 339,100 342.2,98.9 L351.2,99.1 C353.5,100.5 355,104 356.1,107.3" fill="none" stroke="#0a14f0" stroke-width="2.4" stroke-linecap="round" stroke-linejoin="round" /><path d="M339.3,107.3 C336,109.5 335.5,112 336,114.5 C336.5,118 338,120.5 341.4,123.2" fill="none" stroke="#000" stroke-width="2.3" stroke-linecap="round" stroke-linejoin="round" /><path d="M341.4,123.2 C340,126.5 338,127.7 335,128.2 L328.3,128.6" fill="none" stroke="#ff0000" stroke-width="2.3" stroke-linecap="round" stroke-linejoin="round" /><path d="M356.1,107.3 L360.2,110.5 L357.3,114.6 L361.8,117.1 C362.8,118.5 363,119.5 363,120.4" fill="none" stroke="#000" stroke-width="2.3" stroke-linecap="round" stroke-linejoin="round" /><path d="M363,120.4 C363.5,124 364,126.5 365.5,126.8 L370,125.3" fill="none" stroke="#ff0000" stroke-width="2.3" stroke-linecap="round" stroke-linejoin="round" /><path d="M375.2,107 C374.9,103 374.9,100 378.09999999999997,98.9 L387.09999999999997,99.1 C389.4,100.5 390.9,104 392.0,107.3" fill="none" stroke="#0a14f0" stroke-width="2.4" stroke-linecap="round" stroke-linejoin="round" /><path d="M375.2,107.3 C371.9,109.5 371.4,112 371.9,114.5 C372.4,118 373.9,120.5 377.29999999999995,123.2" fill="none" stroke="#000" stroke-width="2.3" stroke-linecap="round" stroke-linejoin="round" /><path d="M377.29999999999995,123.2 C375.9,126.5 373.9,127.7 370.9,128.2 L364.2,128.6" fill="none" stroke="#ff0000" stroke-width="2.3" stroke-linecap="round" stroke-linejoin="round" /><path d="M392.0,107.3 L396.09999999999997,110.5 L393.2,114.6 L397.7,117.1 C398.7,118.5 398.9,119.5 398.9,120.4" fill="none" stroke="#000" stroke-width="2.3" stroke-linecap="round" stroke-linejoin="round" /><path d="M398.9,120.4 C399.4,124 399.9,126.5 401.4,126.8 L405.9,125.3" fill="none" stroke="#ff0000" stroke-width="2.3" stroke-linecap="round" stroke-linejoin="round" /><path d="M445.6,107 C445.3,103 445.3,100 448.5,98.9 L457.5,99.1 C459.8,100.5 461.3,104 462.40000000000003,107.3" fill="none" stroke="#0a14f0" stroke-width="2.4" stroke-linecap="round" stroke-linejoin="round" /><path d="M445.6,107.3 C442.3,109.5 441.8,112 442.3,114.5 C442.8,118 444.3,120.5 447.7,123.2" fill="none" stroke="#000" stroke-width="2.3" stroke-linecap="round" stroke-linejoin="round" /><path d="M447.7,123.2 C446.3,126.5 444.3,127.7 441.3,128.2 L434.6,128.6" fill="none" stroke="#ff0000" stroke-width="2.3" stroke-linecap="round" stroke-linejoin="round" /><path d="M462.40000000000003,107.3 L466.5,110.5 L463.6,114.6 L468.1,117.1 C469.1,118.5 469.3,119.5 469.3,120.4" fill="none" stroke="#000" stroke-width="2.3" stroke-linecap="round" stroke-linejoin="round" /><path d="M469.3,120.4 C469.8,124 470.3,126.5 471.8,126.8 L476.3,125.3" fill="none" stroke="#ff0000" stroke-width="2.3" stroke-linecap="round" stroke-linejoin="round" /><path d="M66,160.6 Q72,156.5 82.9,155.5" fill="none" stroke="#0a14f0" stroke-width="2.2" stroke-linecap="round" stroke-linejoin="round" /><text x="91.00" y="162.40" font-size="12" fill="#000" style="stroke:#000" text-anchor="start" >cDNA</text><path d="M154,159 C158,156 161,155 164,155 C168,155 171,157 174,158.4" fill="none" stroke="#ff0000" stroke-width="2.2" stroke-linecap="round" stroke-linejoin="round" /><path d="M174,158.4 C178,161 181,162 184,162 C187,162 190,160 193,158.4" fill="none" stroke="#000" stroke-width="2.2" stroke-linecap="round" stroke-linejoin="round" /><path d="M193,158.4 C199,156 205,154.5 211,154" fill="none" stroke="#0a14f0" stroke-width="2.2" stroke-linecap="round" stroke-linejoin="round" /><path d="M211,154 C214,153.8 217,154 220,155 C223,156 225,157 227,158" fill="none" stroke="#000" stroke-width="2.2" stroke-linecap="round" stroke-linejoin="round" /><path d="M227,158 C231,160 233,160.4 236,160.4 C240,160.4 245,158 249,155.6" fill="none" stroke="#ff0000" stroke-width="2.2" stroke-linecap="round" stroke-linejoin="round" /><text x="257.40" y="162.80" font-size="12.4" fill="#000" style="stroke:#000" text-anchor="start" >Aptamer 6.9</text><g transform="translate(368.70,157.60) scale(0.5167)"><circle r="10.2" fill="#48eaea"/><line x1="6.99" y1="-0.30" x2="11.27" y2="-0.48" stroke="#2fe2e2" stroke-width="1.6"/><circle cx="11.27" cy="-0.48" r="2.4" fill="#30e4e4"/><line x1="6.08" y1="3.48" x2="9.71" y2="5.55" stroke="#2fe2e2" stroke-width="1.6"/><circle cx="9.71" cy="5.55" r="2.4" fill="#30e4e4"/><line x1="3.93" y1="5.79" x2="6.47" y2="9.55" stroke="#2fe2e2" stroke-width="1.6"/><circle cx="6.47" cy="9.55" r="2.4" fill="#30e4e4"/><line x1="1.57" y1="6.82" x2="2.63" y2="11.41" stroke="#2fe2e2" stroke-width="1.6"/><circle cx="2.63" cy="11.41" r="2.4" fill="#30e4e4"/><line x1="-1.74" y1="6.78" x2="-2.89" y2="11.25" stroke="#2fe2e2" stroke-width="1.6"/><circle cx="-2.89" cy="11.25" r="2.4" fill="#30e4e4"/><line x1="-4.73" y1="5.16" x2="-7.58" y2="8.26" stroke="#2fe2e2" stroke-width="1.6"/><circle cx="-7.58" cy="8.26" r="2.4" fill="#30e4e4"/><line x1="-6.77" y1="1.80" x2="-11.69" y2="3.11" stroke="#2fe2e2" stroke-width="1.6"/><circle cx="-11.69" cy="3.11" r="2.4" fill="#30e4e4"/><line x1="-6.92" y1="-1.06" x2="-11.24" y2="-1.71" stroke="#2fe2e2" stroke-width="1.6"/><circle cx="-11.24" cy="-1.71" r="2.4" fill="#30e4e4"/><line x1="-5.10" y1="-4.80" x2="-8.91" y2="-8.39" stroke="#2fe2e2" stroke-width="1.6"/><circle cx="-8.91" cy="-8.39" r="2.4" fill="#30e4e4"/><line x1="-2.36" y1="-6.59" x2="-3.90" y2="-10.90" stroke="#2fe2e2" stroke-width="1.6"/><circle cx="-3.90" cy="-10.90" r="2.4" fill="#30e4e4"/><line x1="1.63" y1="-6.81" x2="2.60" y2="-10.85" stroke="#2fe2e2" stroke-width="1.6"/><circle cx="2.60" cy="-10.85" r="2.4" fill="#30e4e4"/><line x1="4.46" y1="-5.40" x2="7.29" y2="-8.83" stroke="#2fe2e2" stroke-width="1.6"/><circle cx="7.29" cy="-8.83" r="2.4" fill="#30e4e4"/><line x1="5.90" y1="-3.77" x2="9.47" y2="-6.05" stroke="#2fe2e2" stroke-width="1.6"/><circle cx="9.47" cy="-6.05" r="2.4" fill="#30e4e4"/><circle cx="1.97" cy="-4.47" r="0.89" fill="#b0f6f6"/><circle cx="2.53" cy="6.15" r="1.29" fill="#c8f9f9"/><circle cx="2.05" cy="0.81" r="1.25" fill="#2adcdc"/><circle cx="1.09" cy="-6.32" r="1.33" fill="#e0fcfc"/><circle cx="-1.82" cy="5.64" r="1.43" fill="#b0f6f6"/><circle cx="-3.88" cy="-1.96" r="1.59" fill="#e0fcfc"/><circle cx="-1.77" cy="7.30" r="0.91" fill="#c8f9f9"/><circle cx="0.26" cy="-5.68" r="1.64" fill="#b0f6f6"/><circle cx="5.55" cy="-1.35" r="1.49" fill="#c8f9f9"/><circle cx="4.72" cy="-4.70" r="1.11" fill="#22ccd4"/><circle cx="-5.21" cy="0.11" r="0.86" fill="#e0fcfc"/><circle cx="-0.34" cy="2.67" r="0.85" fill="#c8f9f9"/><circle cx="-4.44" cy="-5.88" r="1.06" fill="#e0fcfc"/><circle cx="-2.67" cy="-4.77" r="1.65" fill="#9ef3f3"/><circle cx="-4.02" cy="-3.37" r="0.85" fill="#e0fcfc"/><circle cx="5.30" cy="5.60" r="1.16" fill="#2adcdc"/><circle cx="-8.42" cy="0.18" r="1.20" fill="#b0f6f6"/><circle cx="4.85" cy="-4.36" r="1.58" fill="#6cefef"/><circle cx="-4.00" cy="2.36" r="1.41" fill="#22ccd4"/><circle cx="0.65" cy="5.39" r="0.96" fill="#c8f9f9"/><circle cx="0.44" cy="4.22" r="1.55" fill="#e0fcfc"/><circle cx="-0.75" cy="3.68" r="1.18" fill="#b0f6f6"/><circle cx="-4.89" cy="-2.17" r="1.42" fill="#b0f6f6"/><circle cx="-4.67" cy="-4.25" r="1.21" fill="#9ef3f3"/><circle cx="7.84" cy="-2.45" r="1.16" fill="#6cefef"/><circle cx="-5.49" cy="0.64" r="0.86" fill="#6cefef"/><circle cx="0.59" cy="2.21" r="0.90" fill="#b0f6f6"/><circle cx="5.46" cy="4.09" r="1.28" fill="#b0f6f6"/><circle cx="-6.48" cy="-5.62" r="1.59" fill="#c8f9f9"/><circle cx="4.10" cy="5.54" r="1.66" fill="#3ee6e6"/><circle cx="-6.74" cy="1.10" r="1.56" fill="#c8f9f9"/><circle cx="-8.57" cy="1.86" r="1.08" fill="#e0fcfc"/><circle cx="-0.01" cy="-3.34" r="1.23" fill="#3ee6e6"/><circle cx="-7.28" cy="-0.75" r="1.66" fill="#2adcdc"/><circle cx="3.87" cy="5.09" r="1.48" fill="#9ef3f3"/><circle cx="-2.99" cy="-3.76" r="1.43" fill="#c8f9f9"/><circle cx="-3.01" cy="3.34" r="1.12" fill="#b0f6f6"/><circle cx="-4.01" cy="-1.07" r="1.37" fill="#22ccd4"/><circle cx="1.65" cy="-6.69" r="1.53" fill="#2adcdc"/><circle cx="-0.51" cy="-7.94" r="0.98" fill="#2adcdc"/><circle cx="-0.74" cy="-6.13" r="1.51" fill="#9ef3f3"/><circle cx="2.10" cy="5.67" r="1.20" fill="#22ccd4"/><circle cx="8.49" cy="-0.64" r="0.87" fill="#22ccd4"/><circle cx="-2.76" cy="0.53" r="0.98" fill="#22ccd4"/></g><text x="381.90" y="162.60" font-size="12.3" fill="#000" style="stroke:#000" text-anchor="start" >Inactivated SARS-CoV-2</text><text x="7.80" y="194.60" font-size="17.5" fill="#000" style="stroke:#000" text-anchor="start" >B</text><text x="16.3" y="216.6" font-size="9.85" font-family="Liberation Serif" textLength="518.2" lengthAdjust="spacingAndGlyphs"><tspan fill="#ff0000" style="stroke:#ff0000">GCAATGGTACGGTACTTCC</tspan><tspan fill="#000" style="stroke:#000">ATGGCTGGTGCTTGAGGTGTGTGTGGGGGTAGGGC</tspan><tspan fill="#ff0000" style="stroke:#ff0000">CAAAAGTGCACGCTACTTTGCTAA</tspan></text><path d="M15.8,217.4 L15.8,220.4 L138.9,220.4 L138.9,217.4 M77.6,220.4 L77.6,225.4" fill="none" stroke="#ff0000" stroke-width="0.9"/><path d="M16.3,217.1 L139.1,217.1 M377.7,217.1 L534.2,217.1" stroke="#ff0000" stroke-width="0.8"/><path d="M376.5,217.4 L376.5,220.4 L534.7,220.4 L534.7,217.4 M455.9,220.4 L455.9,225.4" fill="none" stroke="#ff0000" stroke-width="0.9"/><path d="M208.6,217.5 L208.6,220.5 L341.7,220.5 L341.7,217.5 M274.6,220.5 L274.6,226.0" fill="none" stroke="#333" stroke-width="0.9"/><path d="M141.8,209.3 L141.8,206.3 L275.4,206.3 L275.4,209.3 M208.1,206.3 L208.1,200.3" fill="none" stroke="#333" stroke-width="0.9"/><path d="M274.6,209.3 L274.6,206.3 L408.6,206.3 L408.6,209.3 M341.7,206.3 L341.7,200.3" fill="none" stroke="#333" stroke-width="0.9"/><text x="12.70" y="236.00" font-size="10.15" fill="#ff0000" style="stroke:#ff0000" text-anchor="start" >Primer-5’ binding sequence</text><text x="394.60" y="236.00" font-size="10.15" fill="#ff0000" style="stroke:#ff0000" text-anchor="start" >Primer-3’ binding sequence</text><text x="156.80" y="197.30" font-size="10.2" fill="#000" style="stroke:#000" text-anchor="start" >6.9-17 binding sequence</text><text x="289.90" y="197.30" font-size="10.15" fill="#000" style="stroke:#000" text-anchor="start" >6.9-19 binding sequence</text><text x="222.50" y="235.50" font-size="10.2" fill="#000" style="stroke:#000" text-anchor="start" >6.9-18 binding sequence</text><rect x="46.75" y="287.76" width="24.80" height="155.84" fill="#fac694" stroke="#000" stroke-width="1.7"/><path d="M59.15,284.01 L59.15,291.50 M56.75,284.01 L61.55,284.01 M56.75,291.50 L61.55,291.50" stroke="#000" stroke-width="1.3" fill="none"/><rect x="77.80" y="323.32" width="24.80" height="120.28" fill="#fac694" stroke="#000" stroke-width="1.7"/><path d="M90.2,322.39 L90.2,324.26 M87.80,322.39 L92.60,322.39 M87.80,324.26 L92.60,324.26" stroke="#000" stroke-width="1.3" fill="none"/><rect x="108.85" y="331.75" width="24.80" height="111.85" fill="#fac694" stroke="#000" stroke-width="1.7"/><path d="M121.25,331.51 L121.25,331.98 M118.85,331.51 L123.65,331.51 M118.85,331.98 L123.65,331.98" stroke="#000" stroke-width="1.3" fill="none"/><rect x="139.90" y="375.74" width="24.80" height="67.86" fill="#fac694" stroke="#000" stroke-width="1.7"/><path d="M152.3,372.46 L152.3,379.02 M149.90,372.46 L154.70,372.46 M149.90,379.02 L154.70,379.02" stroke="#000" stroke-width="1.3" fill="none"/><rect x="170.95" y="324.73" width="24.80" height="118.87" fill="#fac694" stroke="#000" stroke-width="1.7"/><path d="M183.35,314.43 L183.35,335.02 M180.95,314.43 L185.75,314.43 M180.95,335.02 L185.75,335.02" stroke="#000" stroke-width="1.3" fill="none"/><rect x="202.00" y="285.42" width="24.80" height="158.18" fill="#fac694" stroke="#000" stroke-width="1.7"/><path d="M214.4,284.95 L214.4,285.88 M212.00,284.95 L216.80,284.95 M212.00,285.88 L216.80,285.88" stroke="#000" stroke-width="1.3" fill="none"/><rect x="233.05" y="418.33" width="24.80" height="25.27" fill="#fac694" stroke="#000" stroke-width="1.7"/><rect x="43.8" y="268.8" width="217.10" height="174.80" fill="none" stroke="#000" stroke-width="1.6"/><line x1="40.80" y1="443.50" x2="43.8" y2="443.50" stroke="#000" stroke-width="1.1"/><text x="37.20" y="446.60" font-size="9.6" fill="#000" style="stroke:#000" text-anchor="end" >0.00</text><line x1="42.00" y1="431.85" x2="43.8" y2="431.85" stroke="#000" stroke-width="1.1"/><line x1="40.80" y1="420.20" x2="43.8" y2="420.20" stroke="#000" stroke-width="1.1"/><text x="37.20" y="423.30" font-size="9.6" fill="#000" style="stroke:#000" text-anchor="end" >0.05</text><line x1="42.00" y1="408.55" x2="43.8" y2="408.55" stroke="#000" stroke-width="1.1"/><line x1="40.80" y1="396.90" x2="43.8" y2="396.90" stroke="#000" stroke-width="1.1"/><text x="37.20" y="400.00" font-size="9.6" fill="#000" style="stroke:#000" text-anchor="end" >0.10</text><line x1="42.00" y1="385.25" x2="43.8" y2="385.25" stroke="#000" stroke-width="1.1"/><line x1="40.80" y1="373.60" x2="43.8" y2="373.60" stroke="#000" stroke-width="1.1"/><text x="37.20" y="376.70" font-size="9.6" fill="#000" style="stroke:#000" text-anchor="end" >0.15</text><line x1="42.00" y1="361.95" x2="43.8" y2="361.95" stroke="#000" stroke-width="1.1"/><line x1="40.80" y1="350.30" x2="43.8" y2="350.30" stroke="#000" stroke-width="1.1"/><text x="37.20" y="353.40" font-size="9.6" fill="#000" style="stroke:#000" text-anchor="end" >0.20</text><line x1="42.00" y1="338.65" x2="43.8" y2="338.65" stroke="#000" stroke-width="1.1"/><line x1="40.80" y1="327.00" x2="43.8" y2="327.00" stroke="#000" stroke-width="1.1"/><text x="37.20" y="330.10" font-size="9.6" fill="#000" style="stroke:#000" text-anchor="end" >0.25</text><line x1="42.00" y1="315.35" x2="43.8" y2="315.35" stroke="#000" stroke-width="1.1"/><line x1="40.80" y1="303.70" x2="43.8" y2="303.70" stroke="#000" stroke-width="1.1"/><text x="37.20" y="306.80" font-size="9.6" fill="#000" style="stroke:#000" text-anchor="end" >0.30</text><line x1="42.00" y1="292.05" x2="43.8" y2="292.05" stroke="#000" stroke-width="1.1"/><line x1="40.80" y1="280.40" x2="43.8" y2="280.40" stroke="#000" stroke-width="1.1"/><text x="37.20" y="283.50" font-size="9.6" fill="#000" style="stroke:#000" text-anchor="end" >0.35</text><line x1="74.67" y1="443.6" x2="74.67" y2="445.40" stroke="#000" stroke-width="1.1"/><line x1="105.73" y1="443.6" x2="105.73" y2="445.40" stroke="#000" stroke-width="1.1"/><line x1="136.78" y1="443.6" x2="136.78" y2="445.40" stroke="#000" stroke-width="1.1"/><line x1="167.83" y1="443.6" x2="167.83" y2="445.40" stroke="#000" stroke-width="1.1"/><line x1="198.88" y1="443.6" x2="198.88" y2="445.40" stroke="#000" stroke-width="1.1"/><line x1="229.93" y1="443.6" x2="229.93" y2="445.40" stroke="#000" stroke-width="1.1"/><line x1="59.15" y1="443.6" x2="59.15" y2="446.60" stroke="#000" stroke-width="1.1"/><text transform="translate(66.15,453.40) rotate(-45)" font-size="9.8" text-anchor="end">6.9</text><line x1="90.20" y1="443.6" x2="90.20" y2="446.60" stroke="#000" stroke-width="1.1"/><text transform="translate(97.20,453.40) rotate(-45)" font-size="9.8" text-anchor="end">Primer-5'</text><line x1="121.25" y1="443.6" x2="121.25" y2="446.60" stroke="#000" stroke-width="1.1"/><text transform="translate(128.25,453.40) rotate(-45)" font-size="9.8" text-anchor="end">6.9-17</text><line x1="152.30" y1="443.6" x2="152.30" y2="446.60" stroke="#000" stroke-width="1.1"/><text transform="translate(159.30,453.40) rotate(-45)" font-size="9.8" text-anchor="end">6.9-18</text><line x1="183.35" y1="443.6" x2="183.35" y2="446.60" stroke="#000" stroke-width="1.1"/><text transform="translate(190.35,453.40) rotate(-45)" font-size="9.8" text-anchor="end">6.9-19</text><line x1="214.40" y1="443.6" x2="214.40" y2="446.60" stroke="#000" stroke-width="1.1"/><text transform="translate(221.40,453.40) rotate(-45)" font-size="9.8" text-anchor="end">Primer-3'</text><line x1="245.45" y1="443.6" x2="245.45" y2="446.60" stroke="#000" stroke-width="1.1"/><text transform="translate(252.45,453.40) rotate(-45)" font-size="9.8" text-anchor="end">Blank</text><line x1="28.3" y1="287.5" x2="278" y2="287.5" stroke="#000" stroke-width="1.3" stroke-dasharray="3.7 2"/><text x="7.80" y="272.30" font-size="17.5" fill="#000" style="stroke:#000" text-anchor="start" >C</text><text transform="translate(16.2,356.20) rotate(-90)" font-size="11.4" text-anchor="middle">Absorbance at 450 nm</text><rect x="315.10" y="296.98" width="17.00" height="147.42" fill="#fac694" stroke="#000" stroke-width="1.7"/><path d="M323.6,288.28 L323.6,305.68 M321.20,288.28 L326.00,288.28 M321.20,305.68 L326.00,305.68" stroke="#000" stroke-width="1.3" fill="none"/><rect x="336.79" y="377.01" width="17.00" height="67.39" fill="#fac694" stroke="#000" stroke-width="1.7"/><rect x="358.48" y="367.18" width="17.00" height="77.22" fill="#fac694" stroke="#000" stroke-width="1.7"/><path d="M366.98,361.56 L366.98,372.80 M364.58,361.56 L369.38,361.56 M364.58,372.80 L369.38,372.80" stroke="#000" stroke-width="1.3" fill="none"/><rect x="380.17" y="361.10" width="17.00" height="83.30" fill="#fac694" stroke="#000" stroke-width="1.7"/><path d="M388.67,354.54 L388.67,367.65 M386.27,354.54 L391.07,354.54 M386.27,367.65 L391.07,367.65" stroke="#000" stroke-width="1.3" fill="none"/><rect x="401.86" y="356.42" width="17.00" height="87.98" fill="#fac694" stroke="#000" stroke-width="1.7"/><path d="M410.36,350.33 L410.36,362.50 M407.96,350.33 L412.76,350.33 M407.96,362.50 L412.76,362.50" stroke="#000" stroke-width="1.3" fill="none"/><rect x="423.55" y="319.44" width="17.00" height="124.96" fill="#fac694" stroke="#000" stroke-width="1.7"/><path d="M432.05,311.49 L432.05,327.40 M429.65,311.49 L434.45,311.49 M429.65,327.40 L434.45,327.40" stroke="#000" stroke-width="1.3" fill="none"/><rect x="445.24" y="307.74" width="17.00" height="136.66" fill="#fac694" stroke="#000" stroke-width="1.7"/><path d="M453.74,306.81 L453.74,308.68 M451.34,306.81 L456.14,306.81 M451.34,308.68 L456.14,308.68" stroke="#000" stroke-width="1.3" fill="none"/><rect x="466.93" y="304.94" width="17.00" height="139.46" fill="#fac694" stroke="#000" stroke-width="1.7"/><path d="M475.43000000000006,285.28 L475.43000000000006,324.59 M473.03,285.28 L477.83,285.28 M473.03,324.59 L477.83,324.59" stroke="#000" stroke-width="1.3" fill="none"/><rect x="488.62" y="306.81" width="17.00" height="137.59" fill="#fac694" stroke="#000" stroke-width="1.7"/><path d="M497.12,298.38 L497.12,315.23 M494.72,298.38 L499.52,298.38 M494.72,315.23 L499.52,315.23" stroke="#000" stroke-width="1.3" fill="none"/><rect x="510.31" y="416.79" width="17.00" height="27.61" fill="#fac694" stroke="#000" stroke-width="1.7"/><path d="M518.8100000000001,416.32 L518.8100000000001,417.26 M516.41,416.32 L521.21,416.32 M516.41,417.26 L521.21,417.26" stroke="#000" stroke-width="1.3" fill="none"/><rect x="313.0" y="269.2" width="216.90" height="175.20" fill="none" stroke="#000" stroke-width="1.6"/><line x1="310.00" y1="444.50" x2="313.0" y2="444.50" stroke="#000" stroke-width="1.1"/><text x="306.40" y="447.60" font-size="9.6" fill="#000" style="stroke:#000" text-anchor="end" >0.00</text><line x1="311.20" y1="432.84" x2="313.0" y2="432.84" stroke="#000" stroke-width="1.1"/><line x1="310.00" y1="421.19" x2="313.0" y2="421.19" stroke="#000" stroke-width="1.1"/><text x="306.40" y="424.29" font-size="9.6" fill="#000" style="stroke:#000" text-anchor="end" >0.05</text><line x1="311.20" y1="409.53" x2="313.0" y2="409.53" stroke="#000" stroke-width="1.1"/><line x1="310.00" y1="397.87" x2="313.0" y2="397.87" stroke="#000" stroke-width="1.1"/><text x="306.40" y="400.97" font-size="9.6" fill="#000" style="stroke:#000" text-anchor="end" >0.10</text><line x1="311.20" y1="386.21" x2="313.0" y2="386.21" stroke="#000" stroke-width="1.1"/><line x1="310.00" y1="374.56" x2="313.0" y2="374.56" stroke="#000" stroke-width="1.1"/><text x="306.40" y="377.66" font-size="9.6" fill="#000" style="stroke:#000" text-anchor="end" >0.15</text><line x1="311.20" y1="362.90" x2="313.0" y2="362.90" stroke="#000" stroke-width="1.1"/><line x1="310.00" y1="351.24" x2="313.0" y2="351.24" stroke="#000" stroke-width="1.1"/><text x="306.40" y="354.34" font-size="9.6" fill="#000" style="stroke:#000" text-anchor="end" >0.20</text><line x1="311.20" y1="339.58" x2="313.0" y2="339.58" stroke="#000" stroke-width="1.1"/><line x1="310.00" y1="327.93" x2="313.0" y2="327.93" stroke="#000" stroke-width="1.1"/><text x="306.40" y="331.03" font-size="9.6" fill="#000" style="stroke:#000" text-anchor="end" >0.25</text><line x1="311.20" y1="316.27" x2="313.0" y2="316.27" stroke="#000" stroke-width="1.1"/><line x1="310.00" y1="304.61" x2="313.0" y2="304.61" stroke="#000" stroke-width="1.1"/><text x="306.40" y="307.71" font-size="9.6" fill="#000" style="stroke:#000" text-anchor="end" >0.30</text><line x1="311.20" y1="292.95" x2="313.0" y2="292.95" stroke="#000" stroke-width="1.1"/><line x1="310.00" y1="281.29" x2="313.0" y2="281.29" stroke="#000" stroke-width="1.1"/><text x="306.40" y="284.39" font-size="9.6" fill="#000" style="stroke:#000" text-anchor="end" >0.35</text><line x1="334.45" y1="444.4" x2="334.45" y2="446.20" stroke="#000" stroke-width="1.1"/><line x1="356.13" y1="444.4" x2="356.13" y2="446.20" stroke="#000" stroke-width="1.1"/><line x1="377.83" y1="444.4" x2="377.83" y2="446.20" stroke="#000" stroke-width="1.1"/><line x1="399.51" y1="444.4" x2="399.51" y2="446.20" stroke="#000" stroke-width="1.1"/><line x1="421.21" y1="444.4" x2="421.21" y2="446.20" stroke="#000" stroke-width="1.1"/><line x1="442.89" y1="444.4" x2="442.89" y2="446.20" stroke="#000" stroke-width="1.1"/><line x1="464.59" y1="444.4" x2="464.59" y2="446.20" stroke="#000" stroke-width="1.1"/><line x1="486.28" y1="444.4" x2="486.28" y2="446.20" stroke="#000" stroke-width="1.1"/><line x1="507.97" y1="444.4" x2="507.97" y2="446.20" stroke="#000" stroke-width="1.1"/><line x1="323.60" y1="444.4" x2="323.60" y2="447.40" stroke="#000" stroke-width="1.1"/><text transform="translate(331.10,452.30) rotate(-45)" font-size="9.8" text-anchor="end">6.9</text><line x1="345.29" y1="444.4" x2="345.29" y2="447.40" stroke="#000" stroke-width="1.1"/><text transform="translate(352.79,452.30) rotate(-45)" font-size="9.8" text-anchor="end">20 bases</text><line x1="366.98" y1="444.4" x2="366.98" y2="447.40" stroke="#000" stroke-width="1.1"/><text transform="translate(374.48,452.30) rotate(-45)" font-size="9.8" text-anchor="end">18 bases</text><line x1="388.67" y1="444.4" x2="388.67" y2="447.40" stroke="#000" stroke-width="1.1"/><text transform="translate(396.17,452.30) rotate(-45)" font-size="9.8" text-anchor="end">16 bases</text><line x1="410.36" y1="444.4" x2="410.36" y2="447.40" stroke="#000" stroke-width="1.1"/><text transform="translate(417.86,452.30) rotate(-45)" font-size="9.8" text-anchor="end">14 bases</text><line x1="432.05" y1="444.4" x2="432.05" y2="447.40" stroke="#000" stroke-width="1.1"/><text transform="translate(439.55,452.30) rotate(-45)" font-size="9.8" text-anchor="end">12 bases</text><line x1="453.74" y1="444.4" x2="453.74" y2="447.40" stroke="#000" stroke-width="1.1"/><text transform="translate(461.24,452.30) rotate(-45)" font-size="9.8" text-anchor="end">10 bases</text><line x1="475.43" y1="444.4" x2="475.43" y2="447.40" stroke="#000" stroke-width="1.1"/><text transform="translate(482.93,452.30) rotate(-45)" font-size="9.8" text-anchor="end">8 bases</text><line x1="497.12" y1="444.4" x2="497.12" y2="447.40" stroke="#000" stroke-width="1.1"/><text transform="translate(504.62,452.30) rotate(-45)" font-size="9.8" text-anchor="end">6 bases</text><line x1="518.81" y1="444.4" x2="518.81" y2="447.40" stroke="#000" stroke-width="1.1"/><text transform="translate(526.31,452.30) rotate(-45)" font-size="9.8" text-anchor="end">blank</text><line x1="299" y1="296" x2="545.5" y2="296" stroke="#000" stroke-width="1.3" stroke-dasharray="3.7 2"/><text x="285.00" y="272.30" font-size="17.5" fill="#000" style="stroke:#000" text-anchor="start" >D</text><text transform="translate(284.8,357.00) rotate(-90)" font-size="11.4" text-anchor="middle">Absorbance at 450 nm</text><text x="137.30" y="499.20" font-size="17.5" fill="#000" style="stroke:#000" text-anchor="start" >E</text><path d="M204.40,654.90 L222.55,654.90 L222.55,654.90 L223.35,652.81 L224.15,650.86 L224.95,649.04 L225.75,647.35 L226.54,645.76 L227.34,644.28 L228.14,642.89 L228.94,641.59 L229.74,640.37 L230.53,639.22 L231.33,638.14 L232.13,637.12 L232.93,636.16 L233.73,635.25 L234.52,634.40 L235.32,633.58 L236.12,632.81 L236.92,632.08 L237.72,631.39 L238.51,630.73 L239.31,630.10 L240.11,629.50 L240.91,628.93 L241.71,628.38 L242.50,627.86 L243.30,627.36 L244.10,626.87 L244.90,626.41 L245.70,625.97 L246.49,625.54 L247.29,625.13 L248.09,624.73 L248.89,624.34 L249.69,623.97 L250.48,623.62 L251.28,623.27 L252.08,622.93 L252.88,622.61 L253.68,622.29 L254.47,621.98 L255.27,621.69 L256.07,621.40 L256.87,621.12 L257.67,620.84 L258.46,620.58 L259.26,620.32 L260.06,620.06 L260.86,619.82 L261.66,619.58 L262.45,619.34 L263.25,619.11 L264.05,618.89 L264.85,618.67 L265.65,618.45 L266.44,618.25 L267.24,618.04 L268.04,617.84 L268.84,617.65 L269.64,617.45 L270.43,617.27 L271.23,617.08 L272.03,616.90 L272.83,616.73 L273.63,616.56 L274.42,616.39 L275.22,616.22 L276.02,616.06 L276.82,615.90 L277.62,615.74 L278.41,615.59 L279.21,615.44 L280.01,615.30 L280.81,615.15 L281.61,615.01 L282.40,614.87 L283.20,614.74 L284.00,614.60 L284.80,614.47 L285.60,614.34 L286.39,614.22 L287.19,614.09 L287.99,613.97 L288.79,613.85 L289.59,613.74 L290.38,613.62 L291.18,613.51 L291.98,613.40 L292.78,613.29 L293.58,613.18 L294.37,613.08 L295.17,612.98 L295.97,612.88 L296.77,612.78 L297.57,612.68 L298.36,612.59 L299.16,612.49 L299.96,612.40 L300.76,612.31 L301.56,612.22 L302.35,612.14 L303.15,612.05 L303.95,611.97 L304.75,611.89 L305.55,611.80 L306.34,611.73 L307.14,611.65 L307.94,611.57 L308.74,611.50 L309.54,611.42 L310.33,611.35 L311.13,611.28 L311.93,611.21 L312.73,611.14 L313.53,611.07 L314.32,611.01 L315.12,610.94 L315.92,610.88 L316.72,610.82 L317.52,610.76 L318.31,610.70 L319.11,610.64 L319.91,610.58 L320.71,610.52 L321.51,610.47 L322.30,610.41 L323.10,610.36 L323.90,610.30 L324.70,610.25 L325.50,610.20 L326.29,610.15 L326.61,610.13 L326.61,610.27 C326.73,610.44 327.05,610.50 327.29,611.25 C327.54,612.01 327.69,612.63 328.09,614.79 C328.49,616.96 329.20,621.08 329.69,624.23 C330.17,627.38 330.36,630.85 331.00,633.67 C331.64,636.49 332.36,638.84 333.52,641.14 C334.67,643.43 336.16,645.79 337.95,647.43 C339.73,649.07 342.15,650.15 344.25,650.97 C346.35,651.79 348.88,651.89 350.55,652.34 C352.22,652.80 353.23,653.03 354.26,653.72 C355.30,654.41 356.36,656.01 356.78,656.47 L356.78,656.47 C357.68,656.41 360.23,656.28 362.20,656.08 C364.18,655.88 366.66,655.42 368.63,655.29 C370.60,655.16 373.12,655.29 374.01,655.29 " fill="none" stroke="#454545" stroke-width="1.7" stroke-linejoin="round"/><path d="M204.40,654.90 L222.55,654.90 L222.55,654.90 L223.35,651.61 L224.15,648.62 L224.95,645.89 L225.75,643.40 L226.54,641.12 L227.34,639.03 L228.14,637.11 L228.94,635.35 L229.74,633.72 L230.53,632.23 L231.33,630.84 L232.13,629.56 L232.93,628.37 L233.73,627.27 L234.52,626.23 L235.32,625.27 L236.12,624.36 L236.92,623.51 L237.72,622.71 L238.51,621.96 L239.31,621.25 L240.11,620.57 L240.91,619.93 L241.71,619.31 L242.50,618.73 L243.30,618.17 L244.10,617.63 L244.90,617.11 L245.70,616.62 L246.49,616.14 L247.29,615.67 L248.09,615.22 L248.89,614.78 L249.69,614.36 L250.48,613.95 L251.28,613.55 L252.08,613.15 L252.88,612.77 L253.68,612.40 L254.47,612.03 L255.27,611.67 L256.07,611.32 L256.87,610.97 L257.67,610.63 L258.46,610.30 L259.26,609.97 L260.06,609.64 L260.86,609.33 L261.66,609.01 L262.45,608.70 L263.25,608.40 L264.05,608.09 L264.85,607.80 L265.65,607.50 L266.44,607.21 L267.24,606.93 L268.04,606.64 L268.84,606.36 L269.64,606.09 L270.43,605.81 L271.23,605.54 L272.03,605.27 L272.83,605.01 L273.63,604.75 L274.42,604.49 L275.22,604.23 L276.02,603.98 L276.82,603.73 L277.62,603.48 L278.41,603.23 L279.21,602.99 L280.01,602.75 L280.81,602.51 L281.61,602.27 L282.40,602.04 L283.20,601.81 L284.00,601.58 L284.80,601.35 L285.60,601.12 L286.39,600.90 L287.19,600.68 L287.99,600.46 L288.79,600.25 L289.59,600.03 L290.38,599.82 L291.18,599.61 L291.98,599.40 L292.78,599.19 L293.58,598.99 L294.37,598.79 L295.17,598.59 L295.97,598.39 L296.77,598.19 L297.57,598.00 L298.36,597.81 L299.16,597.61 L299.96,597.43 L300.76,597.24 L301.56,597.05 L302.35,596.87 L303.15,596.69 L303.95,596.51 L304.75,596.33 L305.55,596.15 L306.34,595.98 L307.14,595.80 L307.94,595.63 L308.74,595.46 L309.54,595.29 L310.33,595.12 L311.13,594.96 L311.93,594.79 L312.73,594.63 L313.53,594.47 L314.32,594.31 L315.12,594.15 L315.92,594.00 L316.72,593.84 L317.52,593.69 L318.31,593.54 L319.11,593.39 L319.91,593.24 L320.71,593.09 L321.51,592.95 L322.30,592.80 L323.10,592.66 L323.78,592.54 L323.78,593.17 C324.10,593.04 325.19,592.84 325.70,592.38 C326.20,591.92 326.51,590.55 326.81,590.42 C327.11,590.28 327.38,591.40 327.49,591.59 L327.49,591.59 C327.61,592.32 327.84,593.23 328.21,595.92 C328.58,598.61 329.25,604.11 329.69,607.72 C330.12,611.32 330.40,614.92 330.80,617.55 C331.20,620.17 331.63,621.74 332.08,623.44 C332.53,625.15 332.86,625.74 333.52,627.77 C334.17,629.80 334.98,633.08 336.03,635.63 C337.08,638.19 338.25,640.52 339.82,643.10 C341.39,645.69 343.46,648.77 345.45,651.16 C347.43,653.56 350.70,656.41 351.75,657.46 L351.75,657.46 C352.29,656.93 354.14,655.16 354.98,654.31 C355.83,653.46 355.91,652.80 356.82,652.34 C357.72,651.89 357.54,651.69 360.41,651.56 C363.28,651.43 371.75,651.56 374.01,651.56 " fill="none" stroke="#f03c3c" stroke-width="1.7" stroke-linejoin="round"/><path d="M204.40,654.90 L222.55,654.90 L222.55,654.90 L223.35,652.10 L224.15,649.39 L224.95,646.77 L225.75,644.23 L226.54,641.77 L227.34,639.39 L228.14,637.07 L228.94,634.83 L229.74,632.65 L230.53,630.53 L231.33,628.48 L232.13,626.47 L232.93,624.53 L233.73,622.63 L234.52,620.79 L235.32,618.99 L236.12,617.23 L236.92,615.52 L237.72,613.85 L238.51,612.21 L239.31,610.62 L240.11,609.06 L240.91,607.53 L241.71,606.04 L242.50,604.58 L243.30,603.15 L244.10,601.74 L244.90,600.37 L245.70,599.02 L246.49,597.69 L247.29,596.39 L248.09,595.11 L248.89,593.86 L249.69,592.62 L250.48,591.41 L251.28,590.22 L252.08,589.04 L252.88,587.89 L253.68,586.75 L254.47,585.62 L255.27,584.52 L256.07,583.43 L256.87,582.35 L257.67,581.29 L258.46,580.24 L259.26,579.21 L260.06,578.19 L260.86,577.18 L261.66,576.19 L262.45,575.21 L263.25,574.23 L264.05,573.27 L264.85,572.32 L265.65,571.38 L266.44,570.45 L267.24,569.53 L268.04,568.62 L268.84,567.72 L269.64,566.83 L270.43,565.95 L271.23,565.07 L272.03,564.21 L272.83,563.35 L273.63,562.50 L274.42,561.66 L275.22,560.82 L276.02,560.00 L276.82,559.18 L277.62,558.36 L278.41,557.56 L279.21,556.76 L280.01,555.96 L280.81,555.18 L281.61,554.40 L282.40,553.62 L283.20,552.86 L284.00,552.09 L284.80,551.34 L285.60,550.59 L286.39,549.84 L287.19,549.10 L287.99,548.37 L288.79,547.64 L289.59,546.92 L290.38,546.20 L291.18,545.49 L291.98,544.78 L292.78,544.08 L293.58,543.38 L294.37,542.68 L295.17,542.00 L295.97,541.31 L296.77,540.63 L297.57,539.96 L298.36,539.29 L299.16,538.62 L299.96,537.96 L300.76,537.31 L301.56,536.65 L302.35,536.01 L303.15,535.36 L303.95,534.72 L304.75,534.09 L305.55,533.45 L306.34,532.83 L307.14,532.20 L307.94,531.58 L308.74,530.97 L309.54,530.36 L310.33,529.75 L311.13,529.14 L311.93,528.54 L312.73,527.95 L313.53,527.35 L314.32,526.76 L315.12,526.18 L315.92,525.60 L316.72,525.02 L317.52,524.44 L318.31,523.87 L319.11,523.30 L319.91,522.74 L320.71,522.18 L321.51,521.62 L322.30,521.07 L323.10,520.52 L323.90,519.97 L323.90,520.03 C324.20,519.80 325.16,519.21 325.70,518.66 C326.23,518.10 326.73,516.59 327.09,516.69 C327.46,516.79 327.76,518.82 327.89,519.25 L327.89,519.25 C327.99,519.97 328.22,520.29 328.49,523.57 C328.75,526.85 329.18,533.73 329.49,538.91 C329.79,544.08 330.09,550.51 330.32,554.63 C330.56,558.76 330.59,559.88 330.88,563.68 C331.18,567.48 331.64,573.64 332.08,577.44 C332.52,581.24 332.98,582.81 333.52,586.48 C334.06,590.15 334.82,596.41 335.31,599.46 C335.80,602.51 335.93,602.38 336.47,604.77 C337.01,607.16 337.67,610.04 338.54,613.81 C339.42,617.58 340.69,623.74 341.74,627.38 C342.79,631.01 343.81,633.11 344.85,635.63 C345.89,638.16 347.01,640.32 347.96,642.51 C348.91,644.71 349.81,647.53 350.55,648.81 C351.30,650.08 352.12,649.95 352.43,650.18 L352.43,650.18 C352.54,650.18 352.89,650.48 353.07,650.18 C353.24,649.89 353.31,648.35 353.47,648.41 C353.63,648.48 353.73,650.05 354.02,650.57 C354.32,651.10 354.76,651.33 355.22,651.56 C355.68,651.79 356.52,651.89 356.78,651.95 L356.78,651.95 C357.38,651.43 359.05,649.72 360.41,648.81 C361.77,647.89 363.40,646.94 364.92,646.45 C366.43,645.95 367.99,645.95 369.51,645.86 C371.02,645.76 373.26,645.86 374.01,645.86 " fill="none" stroke="#1f6ef0" stroke-width="1.7" stroke-linejoin="round"/><rect x="184.8" y="497.6" width="219.10" height="177.30" fill="none" stroke="#000" stroke-width="1.6"/><line x1="181.00" y1="674.56" x2="184.8" y2="674.56" stroke="#000" stroke-width="1.1"/><text x="178.10" y="677.96" font-size="10" fill="#000" style="stroke:#000" text-anchor="end" >-100</text><line x1="182.80" y1="664.73" x2="184.8" y2="664.73" stroke="#000" stroke-width="1.1"/><line x1="181.00" y1="654.90" x2="184.8" y2="654.90" stroke="#000" stroke-width="1.1"/><text x="178.10" y="658.30" font-size="10" fill="#000" style="stroke:#000" text-anchor="end" >0</text><line x1="182.80" y1="645.07" x2="184.8" y2="645.07" stroke="#000" stroke-width="1.1"/><line x1="181.00" y1="635.24" x2="184.8" y2="635.24" stroke="#000" stroke-width="1.1"/><text x="178.10" y="638.64" font-size="10" fill="#000" style="stroke:#000" text-anchor="end" >100</text><line x1="182.80" y1="625.41" x2="184.8" y2="625.41" stroke="#000" stroke-width="1.1"/><line x1="181.00" y1="615.58" x2="184.8" y2="615.58" stroke="#000" stroke-width="1.1"/><text x="178.10" y="618.98" font-size="10" fill="#000" style="stroke:#000" text-anchor="end" >200</text><line x1="182.80" y1="605.75" x2="184.8" y2="605.75" stroke="#000" stroke-width="1.1"/><line x1="181.00" y1="595.92" x2="184.8" y2="595.92" stroke="#000" stroke-width="1.1"/><text x="178.10" y="599.32" font-size="10" fill="#000" style="stroke:#000" text-anchor="end" >300</text><line x1="182.80" y1="586.09" x2="184.8" y2="586.09" stroke="#000" stroke-width="1.1"/><line x1="181.00" y1="576.26" x2="184.8" y2="576.26" stroke="#000" stroke-width="1.1"/><text x="178.10" y="579.66" font-size="10" fill="#000" style="stroke:#000" text-anchor="end" >400</text><line x1="182.80" y1="566.43" x2="184.8" y2="566.43" stroke="#000" stroke-width="1.1"/><line x1="181.00" y1="556.60" x2="184.8" y2="556.60" stroke="#000" stroke-width="1.1"/><text x="178.10" y="560.00" font-size="10" fill="#000" style="stroke:#000" text-anchor="end" >500</text><line x1="182.80" y1="546.77" x2="184.8" y2="546.77" stroke="#000" stroke-width="1.1"/><line x1="181.00" y1="536.94" x2="184.8" y2="536.94" stroke="#000" stroke-width="1.1"/><text x="178.10" y="540.34" font-size="10" fill="#000" style="stroke:#000" text-anchor="end" >600</text><line x1="182.80" y1="527.11" x2="184.8" y2="527.11" stroke="#000" stroke-width="1.1"/><line x1="181.00" y1="517.28" x2="184.8" y2="517.28" stroke="#000" stroke-width="1.1"/><text x="178.10" y="520.68" font-size="10" fill="#000" style="stroke:#000" text-anchor="end" >700</text><line x1="182.80" y1="507.45" x2="184.8" y2="507.45" stroke="#000" stroke-width="1.1"/><line x1="181.00" y1="497.62" x2="184.8" y2="497.62" stroke="#000" stroke-width="1.1"/><text x="178.10" y="501.02" font-size="10" fill="#000" style="stroke:#000" text-anchor="end" >800</text><line x1="204.40" y1="674.9" x2="204.40" y2="678.10" stroke="#000" stroke-width="1.1"/><text x="204.40" y="688.30" font-size="9.6" fill="#000" style="stroke:#000" text-anchor="middle" >0</text><line x1="224.35" y1="674.9" x2="224.35" y2="676.90" stroke="#000" stroke-width="1.1"/><line x1="244.30" y1="674.9" x2="244.30" y2="678.10" stroke="#000" stroke-width="1.1"/><text x="244.30" y="688.30" font-size="9.6" fill="#000" style="stroke:#000" text-anchor="middle" >100</text><line x1="264.25" y1="674.9" x2="264.25" y2="676.90" stroke="#000" stroke-width="1.1"/><line x1="284.20" y1="674.9" x2="284.20" y2="678.10" stroke="#000" stroke-width="1.1"/><text x="284.20" y="688.30" font-size="9.6" fill="#000" style="stroke:#000" text-anchor="middle" >200</text><line x1="304.15" y1="674.9" x2="304.15" y2="676.90" stroke="#000" stroke-width="1.1"/><line x1="324.10" y1="674.9" x2="324.10" y2="678.10" stroke="#000" stroke-width="1.1"/><text x="324.10" y="688.30" font-size="9.6" fill="#000" style="stroke:#000" text-anchor="middle" >300</text><line x1="344.05" y1="674.9" x2="344.05" y2="676.90" stroke="#000" stroke-width="1.1"/><line x1="364.00" y1="674.9" x2="364.00" y2="678.10" stroke="#000" stroke-width="1.1"/><text x="364.00" y="688.30" font-size="9.6" fill="#000" style="stroke:#000" text-anchor="middle" >400</text><line x1="383.95" y1="674.9" x2="383.95" y2="676.90" stroke="#000" stroke-width="1.1"/><line x1="403.90" y1="674.9" x2="403.90" y2="678.10" stroke="#000" stroke-width="1.1"/><text x="403.90" y="688.30" font-size="9.6" fill="#000" style="stroke:#000" text-anchor="middle" >500</text><text x="294.35" y="706.9" font-size="11.6" text-anchor="middle">Time (s)</text><text transform="translate(148.3,581.5) rotate(-90)" font-size="11.4" text-anchor="middle">Fluorescence Signal</text><line x1="188.3" y1="512.4" x2="211.4" y2="512.4" stroke="#454545" stroke-width="1.5"/><text x="214.10" y="514.90" font-size="8.8" fill="#000" style="stroke:#000" text-anchor="start" letter-spacing="0.55">Bare Fiber</text><line x1="188.3" y1="524.5" x2="211.4" y2="524.5" stroke="#f03c3c" stroke-width="1.5"/><text x="214.10" y="527.00" font-size="8.8" fill="#000" style="stroke:#000" text-anchor="start" letter-spacing="0.55">Fiber w/o 6.9</text><line x1="188.3" y1="537.8" x2="211.4" y2="537.8" stroke="#1f6ef0" stroke-width="1.5"/><text x="214.10" y="540.30" font-size="8.8" fill="#000" style="stroke:#000" text-anchor="start" letter-spacing="0.55">Fiber with 6.9</text><text x="347.40" y="527.80" font-size="10.8" fill="#2a6fd8" style="stroke:#2a6fd8" text-anchor="start" >690</text><text x="347.40" y="598.80" font-size="10.8" fill="#e83838" style="stroke:#e83838" text-anchor="start" >312</text><text x="347.40" y="619.00" font-size="10.8" fill="#000" style="stroke:#000" text-anchor="start" >223</text>
</svg>
</body></html>
